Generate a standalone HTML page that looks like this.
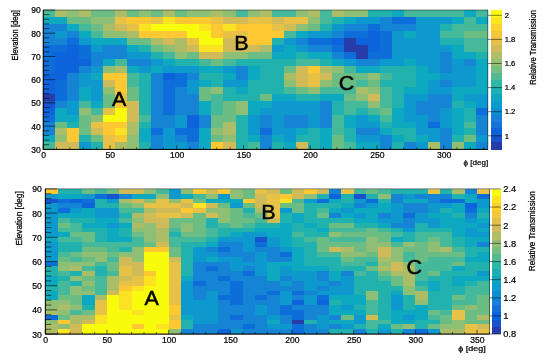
<!DOCTYPE html>
<html><head><meta charset="utf-8"><title>Relative Transmission maps</title>
<style>
html,body{margin:0;padding:0;background:#fff;}
body{width:550px;height:362px;overflow:hidden;}
svg{display:block;}
text{font-family:"Liberation Sans",sans-serif;fill:#000;stroke:#000;stroke-width:0.22px;}
.t{font-size:8.6px;}
.z{font-size:7.7px;}
.zb{font-size:9.3px;}
.sb{font-size:8.2px;}
.pb{font-size:7.1px;}
.s{font-size:7.65px;}
.L{font-size:20.3px;stroke-width:0.5px;}
</style></head><body>
<svg width="550" height="362" viewBox="0 0 550 362">
<defs><filter id="bl" x="-2%" y="-2%" width="104%" height="104%"><feGaussianBlur stdDeviation="0.4"/></filter><filter id="bh" x="-2%" y="-2%" width="104%" height="104%"><feGaussianBlur stdDeviation="0.65"/></filter></defs>
<rect width="550" height="362" fill="#fff"/>
<g shape-rendering="crispEdges" filter="url(#bh)">
<rect x="43.20" y="10.00" width="12.32" height="7.27" fill="#44b999"/>
<rect x="55.22" y="10.00" width="12.32" height="7.27" fill="#acbd68"/>
<rect x="67.24" y="10.00" width="12.32" height="7.27" fill="#8fbf74"/>
<rect x="79.26" y="10.00" width="12.32" height="7.27" fill="#acbd68"/>
<rect x="91.28" y="10.00" width="24.34" height="7.27" fill="#6cbd84"/>
<rect x="115.31" y="10.00" width="12.32" height="7.27" fill="#acbd68"/>
<rect x="127.33" y="10.00" width="12.32" height="7.27" fill="#6cbd84"/>
<rect x="139.35" y="10.00" width="12.32" height="7.27" fill="#8fbf74"/>
<rect x="151.37" y="10.00" width="12.32" height="7.27" fill="#6cbd84"/>
<rect x="163.39" y="10.00" width="12.32" height="7.27" fill="#acbd68"/>
<rect x="175.41" y="10.00" width="12.32" height="7.27" fill="#6cbd84"/>
<rect x="187.43" y="10.00" width="24.34" height="7.27" fill="#8fbf74"/>
<rect x="211.46" y="10.00" width="12.32" height="7.27" fill="#acbd68"/>
<rect x="223.48" y="10.00" width="12.32" height="7.27" fill="#8fbf74"/>
<rect x="235.50" y="10.00" width="12.32" height="7.27" fill="#44b999"/>
<rect x="247.52" y="10.00" width="12.32" height="7.27" fill="#8fbf74"/>
<rect x="259.54" y="10.00" width="12.32" height="7.27" fill="#acbd68"/>
<rect x="271.56" y="10.00" width="24.34" height="7.27" fill="#44b999"/>
<rect x="295.60" y="10.00" width="12.32" height="7.27" fill="#8fbf74"/>
<rect x="307.62" y="10.00" width="12.32" height="7.27" fill="#acbd68"/>
<rect x="319.64" y="10.00" width="12.32" height="7.27" fill="#44b999"/>
<rect x="331.65" y="10.00" width="12.32" height="7.27" fill="#acbd68"/>
<rect x="343.67" y="10.00" width="24.34" height="7.27" fill="#8fbf74"/>
<rect x="367.71" y="10.00" width="24.34" height="7.27" fill="#24b2ad"/>
<rect x="391.75" y="10.00" width="12.32" height="7.27" fill="#10a9c0"/>
<rect x="403.77" y="10.00" width="60.39" height="7.27" fill="#44b999"/>
<rect x="463.86" y="10.00" width="12.32" height="7.27" fill="#10a9c0"/>
<rect x="475.88" y="10.00" width="12.32" height="7.27" fill="#44b999"/>
<rect x="43.20" y="16.97" width="24.34" height="7.27" fill="#10a9c0"/>
<rect x="67.24" y="16.97" width="24.34" height="7.27" fill="#6cbd84"/>
<rect x="91.28" y="16.97" width="24.34" height="7.27" fill="#8fbf74"/>
<rect x="115.31" y="16.97" width="12.32" height="7.27" fill="#e7c246"/>
<rect x="127.33" y="16.97" width="24.34" height="7.27" fill="#fec832"/>
<rect x="151.37" y="16.97" width="12.32" height="7.27" fill="#e7c246"/>
<rect x="163.39" y="16.97" width="12.32" height="7.27" fill="#fbe220"/>
<rect x="175.41" y="16.97" width="36.36" height="7.27" fill="#fec832"/>
<rect x="211.46" y="16.97" width="12.32" height="7.27" fill="#e7c246"/>
<rect x="223.48" y="16.97" width="24.34" height="7.27" fill="#d1bb59"/>
<rect x="247.52" y="16.97" width="24.34" height="7.27" fill="#e7c246"/>
<rect x="271.56" y="16.97" width="12.32" height="7.27" fill="#d1bb59"/>
<rect x="283.58" y="16.97" width="24.34" height="7.27" fill="#e7c246"/>
<rect x="307.62" y="16.97" width="12.32" height="7.27" fill="#8fbf74"/>
<rect x="319.64" y="16.97" width="12.32" height="7.27" fill="#44b999"/>
<rect x="331.65" y="16.97" width="12.32" height="7.27" fill="#24b2ad"/>
<rect x="343.67" y="16.97" width="12.32" height="7.27" fill="#10a9c0"/>
<rect x="355.69" y="16.97" width="24.34" height="7.27" fill="#0a99cd"/>
<rect x="379.73" y="16.97" width="12.32" height="7.27" fill="#1284d5"/>
<rect x="391.75" y="16.97" width="24.34" height="7.27" fill="#116eda"/>
<rect x="415.79" y="16.97" width="36.36" height="7.27" fill="#0a99cd"/>
<rect x="451.84" y="16.97" width="12.32" height="7.27" fill="#10a9c0"/>
<rect x="463.86" y="16.97" width="12.32" height="7.27" fill="#44b999"/>
<rect x="475.88" y="16.97" width="12.32" height="7.27" fill="#10a9c0"/>
<rect x="43.20" y="23.94" width="24.34" height="7.27" fill="#1284d5"/>
<rect x="67.24" y="23.94" width="12.32" height="7.27" fill="#10a9c0"/>
<rect x="79.26" y="23.94" width="12.32" height="7.27" fill="#44b999"/>
<rect x="91.28" y="23.94" width="12.32" height="7.27" fill="#6cbd84"/>
<rect x="103.29" y="23.94" width="12.32" height="7.27" fill="#acbd68"/>
<rect x="115.31" y="23.94" width="12.32" height="7.27" fill="#d1bb59"/>
<rect x="127.33" y="23.94" width="12.32" height="7.27" fill="#e7c246"/>
<rect x="139.35" y="23.94" width="12.32" height="7.27" fill="#fbe220"/>
<rect x="151.37" y="23.94" width="48.38" height="7.27" fill="#f9fb0e"/>
<rect x="199.45" y="23.94" width="12.32" height="7.27" fill="#fbe220"/>
<rect x="211.46" y="23.94" width="12.32" height="7.27" fill="#fec832"/>
<rect x="223.48" y="23.94" width="12.32" height="7.27" fill="#fbe220"/>
<rect x="235.50" y="23.94" width="36.36" height="7.27" fill="#fec832"/>
<rect x="271.56" y="23.94" width="12.32" height="7.27" fill="#e7c246"/>
<rect x="283.58" y="23.94" width="12.32" height="7.27" fill="#d1bb59"/>
<rect x="295.60" y="23.94" width="12.32" height="7.27" fill="#8fbf74"/>
<rect x="307.62" y="23.94" width="12.32" height="7.27" fill="#6cbd84"/>
<rect x="319.64" y="23.94" width="12.32" height="7.27" fill="#24b2ad"/>
<rect x="331.65" y="23.94" width="12.32" height="7.27" fill="#0a99cd"/>
<rect x="343.67" y="23.94" width="24.34" height="7.27" fill="#1284d5"/>
<rect x="367.71" y="23.94" width="12.32" height="7.27" fill="#116eda"/>
<rect x="379.73" y="23.94" width="36.36" height="7.27" fill="#1284d5"/>
<rect x="415.79" y="23.94" width="24.34" height="7.27" fill="#0a99cd"/>
<rect x="439.82" y="23.94" width="12.32" height="7.27" fill="#24b2ad"/>
<rect x="451.84" y="23.94" width="36.36" height="7.27" fill="#44b999"/>
<rect x="43.20" y="30.91" width="12.32" height="7.27" fill="#1284d5"/>
<rect x="55.22" y="30.91" width="12.32" height="7.27" fill="#0a99cd"/>
<rect x="67.24" y="30.91" width="12.32" height="7.27" fill="#1284d5"/>
<rect x="79.26" y="30.91" width="12.32" height="7.27" fill="#10a9c0"/>
<rect x="91.28" y="30.91" width="12.32" height="7.27" fill="#44b999"/>
<rect x="103.29" y="30.91" width="24.34" height="7.27" fill="#8fbf74"/>
<rect x="127.33" y="30.91" width="12.32" height="7.27" fill="#acbd68"/>
<rect x="139.35" y="30.91" width="48.38" height="7.27" fill="#fec832"/>
<rect x="187.43" y="30.91" width="24.34" height="7.27" fill="#f9fb0e"/>
<rect x="211.46" y="30.91" width="12.32" height="7.27" fill="#fec832"/>
<rect x="223.48" y="30.91" width="24.34" height="7.27" fill="#e7c246"/>
<rect x="247.52" y="30.91" width="36.36" height="7.27" fill="#fec832"/>
<rect x="283.58" y="30.91" width="12.32" height="7.27" fill="#44b999"/>
<rect x="295.60" y="30.91" width="12.32" height="7.27" fill="#10a9c0"/>
<rect x="307.62" y="30.91" width="24.34" height="7.27" fill="#0a99cd"/>
<rect x="331.65" y="30.91" width="12.32" height="7.27" fill="#1284d5"/>
<rect x="343.67" y="30.91" width="24.34" height="7.27" fill="#116eda"/>
<rect x="367.71" y="30.91" width="12.32" height="7.27" fill="#1063dc"/>
<rect x="379.73" y="30.91" width="12.32" height="7.27" fill="#116eda"/>
<rect x="391.75" y="30.91" width="12.32" height="7.27" fill="#0a99cd"/>
<rect x="403.77" y="30.91" width="12.32" height="7.27" fill="#10a9c0"/>
<rect x="415.79" y="30.91" width="24.34" height="7.27" fill="#0a99cd"/>
<rect x="439.82" y="30.91" width="24.34" height="7.27" fill="#44b999"/>
<rect x="463.86" y="30.91" width="24.34" height="7.27" fill="#6cbd84"/>
<rect x="43.20" y="37.88" width="24.34" height="7.27" fill="#1284d5"/>
<rect x="67.24" y="37.88" width="12.32" height="7.27" fill="#116eda"/>
<rect x="79.26" y="37.88" width="12.32" height="7.27" fill="#0a99cd"/>
<rect x="91.28" y="37.88" width="36.36" height="7.27" fill="#10a9c0"/>
<rect x="127.33" y="37.88" width="24.34" height="7.27" fill="#6cbd84"/>
<rect x="151.37" y="37.88" width="12.32" height="7.27" fill="#acbd68"/>
<rect x="163.39" y="37.88" width="12.32" height="7.27" fill="#d1bb59"/>
<rect x="175.41" y="37.88" width="12.32" height="7.27" fill="#acbd68"/>
<rect x="187.43" y="37.88" width="12.32" height="7.27" fill="#e7c246"/>
<rect x="199.45" y="37.88" width="24.34" height="7.27" fill="#f9fb0e"/>
<rect x="223.48" y="37.88" width="12.32" height="7.27" fill="#d1bb59"/>
<rect x="235.50" y="37.88" width="12.32" height="7.27" fill="#e7c246"/>
<rect x="247.52" y="37.88" width="24.34" height="7.27" fill="#fec832"/>
<rect x="271.56" y="37.88" width="12.32" height="7.27" fill="#24b2ad"/>
<rect x="283.58" y="37.88" width="12.32" height="7.27" fill="#0a99cd"/>
<rect x="295.60" y="37.88" width="12.32" height="7.27" fill="#1284d5"/>
<rect x="307.62" y="37.88" width="24.34" height="7.27" fill="#116eda"/>
<rect x="331.65" y="37.88" width="12.32" height="7.27" fill="#1063dc"/>
<rect x="343.67" y="37.88" width="12.32" height="7.27" fill="#263ea9"/>
<rect x="355.69" y="37.88" width="24.34" height="7.27" fill="#1063dc"/>
<rect x="379.73" y="37.88" width="12.32" height="7.27" fill="#116eda"/>
<rect x="391.75" y="37.88" width="48.38" height="7.27" fill="#0a99cd"/>
<rect x="439.82" y="37.88" width="24.34" height="7.27" fill="#24b2ad"/>
<rect x="463.86" y="37.88" width="24.34" height="7.27" fill="#44b999"/>
<rect x="43.20" y="44.85" width="24.34" height="7.27" fill="#116eda"/>
<rect x="67.24" y="44.85" width="12.32" height="7.27" fill="#1063dc"/>
<rect x="79.26" y="44.85" width="12.32" height="7.27" fill="#116eda"/>
<rect x="91.28" y="44.85" width="12.32" height="7.27" fill="#0a99cd"/>
<rect x="103.29" y="44.85" width="24.34" height="7.27" fill="#1284d5"/>
<rect x="127.33" y="44.85" width="12.32" height="7.27" fill="#10a9c0"/>
<rect x="139.35" y="44.85" width="12.32" height="7.27" fill="#24b2ad"/>
<rect x="151.37" y="44.85" width="12.32" height="7.27" fill="#6cbd84"/>
<rect x="163.39" y="44.85" width="12.32" height="7.27" fill="#8fbf74"/>
<rect x="175.41" y="44.85" width="12.32" height="7.27" fill="#acbd68"/>
<rect x="187.43" y="44.85" width="12.32" height="7.27" fill="#d1bb59"/>
<rect x="199.45" y="44.85" width="24.34" height="7.27" fill="#fbe220"/>
<rect x="223.48" y="44.85" width="36.36" height="7.27" fill="#d1bb59"/>
<rect x="259.54" y="44.85" width="12.32" height="7.27" fill="#acbd68"/>
<rect x="271.56" y="44.85" width="12.32" height="7.27" fill="#0a99cd"/>
<rect x="283.58" y="44.85" width="12.32" height="7.27" fill="#10a9c0"/>
<rect x="295.60" y="44.85" width="12.32" height="7.27" fill="#0a99cd"/>
<rect x="307.62" y="44.85" width="24.34" height="7.27" fill="#1284d5"/>
<rect x="331.65" y="44.85" width="12.32" height="7.27" fill="#116eda"/>
<rect x="343.67" y="44.85" width="24.34" height="7.27" fill="#263ea9"/>
<rect x="367.71" y="44.85" width="12.32" height="7.27" fill="#1063dc"/>
<rect x="379.73" y="44.85" width="12.32" height="7.27" fill="#116eda"/>
<rect x="391.75" y="44.85" width="60.39" height="7.27" fill="#0a99cd"/>
<rect x="451.84" y="44.85" width="12.32" height="7.27" fill="#10a9c0"/>
<rect x="463.86" y="44.85" width="24.34" height="7.27" fill="#44b999"/>
<rect x="43.20" y="51.82" width="12.32" height="7.27" fill="#116eda"/>
<rect x="55.22" y="51.82" width="24.34" height="7.27" fill="#1063dc"/>
<rect x="79.26" y="51.82" width="12.32" height="7.27" fill="#116eda"/>
<rect x="91.28" y="51.82" width="36.36" height="7.27" fill="#1284d5"/>
<rect x="127.33" y="51.82" width="24.34" height="7.27" fill="#0a99cd"/>
<rect x="151.37" y="51.82" width="12.32" height="7.27" fill="#24b2ad"/>
<rect x="163.39" y="51.82" width="12.32" height="7.27" fill="#44b999"/>
<rect x="175.41" y="51.82" width="12.32" height="7.27" fill="#8fbf74"/>
<rect x="187.43" y="51.82" width="12.32" height="7.27" fill="#6cbd84"/>
<rect x="199.45" y="51.82" width="24.34" height="7.27" fill="#d1bb59"/>
<rect x="223.48" y="51.82" width="24.34" height="7.27" fill="#8fbf74"/>
<rect x="247.52" y="51.82" width="24.34" height="7.27" fill="#6cbd84"/>
<rect x="271.56" y="51.82" width="24.34" height="7.27" fill="#10a9c0"/>
<rect x="295.60" y="51.82" width="12.32" height="7.27" fill="#24b2ad"/>
<rect x="307.62" y="51.82" width="24.34" height="7.27" fill="#10a9c0"/>
<rect x="331.65" y="51.82" width="12.32" height="7.27" fill="#1284d5"/>
<rect x="343.67" y="51.82" width="12.32" height="7.27" fill="#116eda"/>
<rect x="355.69" y="51.82" width="12.32" height="7.27" fill="#263ea9"/>
<rect x="367.71" y="51.82" width="24.34" height="7.27" fill="#116eda"/>
<rect x="391.75" y="51.82" width="48.38" height="7.27" fill="#0a99cd"/>
<rect x="439.82" y="51.82" width="12.32" height="7.27" fill="#1284d5"/>
<rect x="451.84" y="51.82" width="24.34" height="7.27" fill="#10a9c0"/>
<rect x="475.88" y="51.82" width="12.32" height="7.27" fill="#24b2ad"/>
<rect x="43.20" y="58.79" width="12.32" height="7.27" fill="#116eda"/>
<rect x="55.22" y="58.79" width="36.36" height="7.27" fill="#1063dc"/>
<rect x="91.28" y="58.79" width="12.32" height="7.27" fill="#1284d5"/>
<rect x="103.29" y="58.79" width="12.32" height="7.27" fill="#10a9c0"/>
<rect x="115.31" y="58.79" width="12.32" height="7.27" fill="#44b999"/>
<rect x="127.33" y="58.79" width="24.34" height="7.27" fill="#1284d5"/>
<rect x="151.37" y="58.79" width="12.32" height="7.27" fill="#0a99cd"/>
<rect x="163.39" y="58.79" width="12.32" height="7.27" fill="#10a9c0"/>
<rect x="175.41" y="58.79" width="24.34" height="7.27" fill="#24b2ad"/>
<rect x="199.45" y="58.79" width="12.32" height="7.27" fill="#44b999"/>
<rect x="211.46" y="58.79" width="12.32" height="7.27" fill="#6cbd84"/>
<rect x="223.48" y="58.79" width="12.32" height="7.27" fill="#44b999"/>
<rect x="235.50" y="58.79" width="60.39" height="7.27" fill="#24b2ad"/>
<rect x="295.60" y="58.79" width="24.34" height="7.27" fill="#44b999"/>
<rect x="319.64" y="58.79" width="12.32" height="7.27" fill="#24b2ad"/>
<rect x="331.65" y="58.79" width="12.32" height="7.27" fill="#10a9c0"/>
<rect x="343.67" y="58.79" width="12.32" height="7.27" fill="#0a99cd"/>
<rect x="355.69" y="58.79" width="24.34" height="7.27" fill="#1284d5"/>
<rect x="379.73" y="58.79" width="24.34" height="7.27" fill="#0a99cd"/>
<rect x="403.77" y="58.79" width="12.32" height="7.27" fill="#10a9c0"/>
<rect x="415.79" y="58.79" width="24.34" height="7.27" fill="#0a99cd"/>
<rect x="439.82" y="58.79" width="12.32" height="7.27" fill="#1284d5"/>
<rect x="451.84" y="58.79" width="12.32" height="7.27" fill="#0a99cd"/>
<rect x="463.86" y="58.79" width="12.32" height="7.27" fill="#1284d5"/>
<rect x="475.88" y="58.79" width="12.32" height="7.27" fill="#10a9c0"/>
<rect x="43.20" y="65.76" width="12.32" height="7.27" fill="#116eda"/>
<rect x="55.22" y="65.76" width="24.34" height="7.27" fill="#1063dc"/>
<rect x="79.26" y="65.76" width="12.32" height="7.27" fill="#1284d5"/>
<rect x="91.28" y="65.76" width="12.32" height="7.27" fill="#0a99cd"/>
<rect x="103.29" y="65.76" width="12.32" height="7.27" fill="#8fbf74"/>
<rect x="115.31" y="65.76" width="12.32" height="7.27" fill="#acbd68"/>
<rect x="127.33" y="65.76" width="12.32" height="7.27" fill="#10a9c0"/>
<rect x="139.35" y="65.76" width="12.32" height="7.27" fill="#0a99cd"/>
<rect x="151.37" y="65.76" width="12.32" height="7.27" fill="#10a9c0"/>
<rect x="163.39" y="65.76" width="36.36" height="7.27" fill="#0a99cd"/>
<rect x="199.45" y="65.76" width="24.34" height="7.27" fill="#10a9c0"/>
<rect x="223.48" y="65.76" width="12.32" height="7.27" fill="#0a99cd"/>
<rect x="235.50" y="65.76" width="12.32" height="7.27" fill="#1284d5"/>
<rect x="247.52" y="65.76" width="12.32" height="7.27" fill="#10a9c0"/>
<rect x="259.54" y="65.76" width="24.34" height="7.27" fill="#24b2ad"/>
<rect x="283.58" y="65.76" width="12.32" height="7.27" fill="#6cbd84"/>
<rect x="295.60" y="65.76" width="12.32" height="7.27" fill="#d1bb59"/>
<rect x="307.62" y="65.76" width="12.32" height="7.27" fill="#fec832"/>
<rect x="319.64" y="65.76" width="12.32" height="7.27" fill="#acbd68"/>
<rect x="331.65" y="65.76" width="12.32" height="7.27" fill="#8fbf74"/>
<rect x="343.67" y="65.76" width="12.32" height="7.27" fill="#44b999"/>
<rect x="355.69" y="65.76" width="24.34" height="7.27" fill="#10a9c0"/>
<rect x="379.73" y="65.76" width="36.36" height="7.27" fill="#24b2ad"/>
<rect x="415.79" y="65.76" width="12.32" height="7.27" fill="#10a9c0"/>
<rect x="427.81" y="65.76" width="12.32" height="7.27" fill="#0a99cd"/>
<rect x="439.82" y="65.76" width="12.32" height="7.27" fill="#1284d5"/>
<rect x="451.84" y="65.76" width="24.34" height="7.27" fill="#0a99cd"/>
<rect x="475.88" y="65.76" width="12.32" height="7.27" fill="#10a9c0"/>
<rect x="43.20" y="72.73" width="24.34" height="7.27" fill="#1063dc"/>
<rect x="67.24" y="72.73" width="12.32" height="7.27" fill="#1284d5"/>
<rect x="79.26" y="72.73" width="12.32" height="7.27" fill="#0a99cd"/>
<rect x="91.28" y="72.73" width="12.32" height="7.27" fill="#10a9c0"/>
<rect x="103.29" y="72.73" width="24.34" height="7.27" fill="#fec832"/>
<rect x="127.33" y="72.73" width="12.32" height="7.27" fill="#44b999"/>
<rect x="139.35" y="72.73" width="12.32" height="7.27" fill="#24b2ad"/>
<rect x="151.37" y="72.73" width="12.32" height="7.27" fill="#1284d5"/>
<rect x="163.39" y="72.73" width="12.32" height="7.27" fill="#1063dc"/>
<rect x="175.41" y="72.73" width="12.32" height="7.27" fill="#116eda"/>
<rect x="187.43" y="72.73" width="12.32" height="7.27" fill="#1284d5"/>
<rect x="199.45" y="72.73" width="24.34" height="7.27" fill="#24b2ad"/>
<rect x="223.48" y="72.73" width="12.32" height="7.27" fill="#10a9c0"/>
<rect x="235.50" y="72.73" width="12.32" height="7.27" fill="#1284d5"/>
<rect x="247.52" y="72.73" width="12.32" height="7.27" fill="#10a9c0"/>
<rect x="259.54" y="72.73" width="24.34" height="7.27" fill="#24b2ad"/>
<rect x="283.58" y="72.73" width="12.32" height="7.27" fill="#acbd68"/>
<rect x="295.60" y="72.73" width="12.32" height="7.27" fill="#d1bb59"/>
<rect x="307.62" y="72.73" width="12.32" height="7.27" fill="#e7c246"/>
<rect x="319.64" y="72.73" width="12.32" height="7.27" fill="#d1bb59"/>
<rect x="331.65" y="72.73" width="36.36" height="7.27" fill="#6cbd84"/>
<rect x="367.71" y="72.73" width="12.32" height="7.27" fill="#8fbf74"/>
<rect x="379.73" y="72.73" width="12.32" height="7.27" fill="#44b999"/>
<rect x="391.75" y="72.73" width="24.34" height="7.27" fill="#24b2ad"/>
<rect x="415.79" y="72.73" width="24.34" height="7.27" fill="#10a9c0"/>
<rect x="439.82" y="72.73" width="36.36" height="7.27" fill="#0a99cd"/>
<rect x="475.88" y="72.73" width="12.32" height="7.27" fill="#10a9c0"/>
<rect x="43.20" y="79.70" width="12.32" height="7.27" fill="#1063dc"/>
<rect x="55.22" y="79.70" width="12.32" height="7.27" fill="#116eda"/>
<rect x="67.24" y="79.70" width="12.32" height="7.27" fill="#1284d5"/>
<rect x="79.26" y="79.70" width="24.34" height="7.27" fill="#0a99cd"/>
<rect x="103.29" y="79.70" width="12.32" height="7.27" fill="#d1bb59"/>
<rect x="115.31" y="79.70" width="12.32" height="7.27" fill="#fec832"/>
<rect x="127.33" y="79.70" width="12.32" height="7.27" fill="#44b999"/>
<rect x="139.35" y="79.70" width="12.32" height="7.27" fill="#24b2ad"/>
<rect x="151.37" y="79.70" width="12.32" height="7.27" fill="#1284d5"/>
<rect x="163.39" y="79.70" width="24.34" height="7.27" fill="#116eda"/>
<rect x="187.43" y="79.70" width="12.32" height="7.27" fill="#0a99cd"/>
<rect x="199.45" y="79.70" width="12.32" height="7.27" fill="#10a9c0"/>
<rect x="211.46" y="79.70" width="12.32" height="7.27" fill="#24b2ad"/>
<rect x="223.48" y="79.70" width="24.34" height="7.27" fill="#0a99cd"/>
<rect x="247.52" y="79.70" width="36.36" height="7.27" fill="#24b2ad"/>
<rect x="283.58" y="79.70" width="12.32" height="7.27" fill="#8fbf74"/>
<rect x="295.60" y="79.70" width="12.32" height="7.27" fill="#d1bb59"/>
<rect x="307.62" y="79.70" width="12.32" height="7.27" fill="#e7c246"/>
<rect x="319.64" y="79.70" width="12.32" height="7.27" fill="#8fbf74"/>
<rect x="331.65" y="79.70" width="24.34" height="7.27" fill="#6cbd84"/>
<rect x="355.69" y="79.70" width="12.32" height="7.27" fill="#44b999"/>
<rect x="367.71" y="79.70" width="12.32" height="7.27" fill="#6cbd84"/>
<rect x="379.73" y="79.70" width="36.36" height="7.27" fill="#24b2ad"/>
<rect x="415.79" y="79.70" width="12.32" height="7.27" fill="#10a9c0"/>
<rect x="427.81" y="79.70" width="12.32" height="7.27" fill="#0a99cd"/>
<rect x="439.82" y="79.70" width="12.32" height="7.27" fill="#1284d5"/>
<rect x="451.84" y="79.70" width="24.34" height="7.27" fill="#0a99cd"/>
<rect x="475.88" y="79.70" width="12.32" height="7.27" fill="#10a9c0"/>
<rect x="43.20" y="86.67" width="12.32" height="7.27" fill="#1063dc"/>
<rect x="55.22" y="86.67" width="12.32" height="7.27" fill="#116eda"/>
<rect x="67.24" y="86.67" width="12.32" height="7.27" fill="#1284d5"/>
<rect x="79.26" y="86.67" width="12.32" height="7.27" fill="#10a9c0"/>
<rect x="91.28" y="86.67" width="12.32" height="7.27" fill="#0a99cd"/>
<rect x="103.29" y="86.67" width="12.32" height="7.27" fill="#8fbf74"/>
<rect x="115.31" y="86.67" width="12.32" height="7.27" fill="#fec832"/>
<rect x="127.33" y="86.67" width="12.32" height="7.27" fill="#6cbd84"/>
<rect x="139.35" y="86.67" width="12.32" height="7.27" fill="#24b2ad"/>
<rect x="151.37" y="86.67" width="12.32" height="7.27" fill="#1284d5"/>
<rect x="163.39" y="86.67" width="12.32" height="7.27" fill="#116eda"/>
<rect x="175.41" y="86.67" width="12.32" height="7.27" fill="#1284d5"/>
<rect x="187.43" y="86.67" width="12.32" height="7.27" fill="#0a99cd"/>
<rect x="199.45" y="86.67" width="12.32" height="7.27" fill="#6cbd84"/>
<rect x="211.46" y="86.67" width="12.32" height="7.27" fill="#8fbf74"/>
<rect x="223.48" y="86.67" width="12.32" height="7.27" fill="#24b2ad"/>
<rect x="235.50" y="86.67" width="12.32" height="7.27" fill="#10a9c0"/>
<rect x="247.52" y="86.67" width="36.36" height="7.27" fill="#24b2ad"/>
<rect x="283.58" y="86.67" width="12.32" height="7.27" fill="#44b999"/>
<rect x="295.60" y="86.67" width="12.32" height="7.27" fill="#6cbd84"/>
<rect x="307.62" y="86.67" width="12.32" height="7.27" fill="#8fbf74"/>
<rect x="319.64" y="86.67" width="36.36" height="7.27" fill="#44b999"/>
<rect x="355.69" y="86.67" width="12.32" height="7.27" fill="#acbd68"/>
<rect x="367.71" y="86.67" width="12.32" height="7.27" fill="#8fbf74"/>
<rect x="379.73" y="86.67" width="12.32" height="7.27" fill="#44b999"/>
<rect x="391.75" y="86.67" width="12.32" height="7.27" fill="#24b2ad"/>
<rect x="403.77" y="86.67" width="24.34" height="7.27" fill="#10a9c0"/>
<rect x="427.81" y="86.67" width="24.34" height="7.27" fill="#0a99cd"/>
<rect x="451.84" y="86.67" width="36.36" height="7.27" fill="#10a9c0"/>
<rect x="43.20" y="93.64" width="12.32" height="7.27" fill="#263ea9"/>
<rect x="55.22" y="93.64" width="12.32" height="7.27" fill="#116eda"/>
<rect x="67.24" y="93.64" width="12.32" height="7.27" fill="#1284d5"/>
<rect x="79.26" y="93.64" width="12.32" height="7.27" fill="#10a9c0"/>
<rect x="91.28" y="93.64" width="12.32" height="7.27" fill="#0a99cd"/>
<rect x="103.29" y="93.64" width="12.32" height="7.27" fill="#6cbd84"/>
<rect x="115.31" y="93.64" width="12.32" height="7.27" fill="#e7c246"/>
<rect x="127.33" y="93.64" width="12.32" height="7.27" fill="#6cbd84"/>
<rect x="139.35" y="93.64" width="12.32" height="7.27" fill="#24b2ad"/>
<rect x="151.37" y="93.64" width="12.32" height="7.27" fill="#1284d5"/>
<rect x="163.39" y="93.64" width="12.32" height="7.27" fill="#116eda"/>
<rect x="175.41" y="93.64" width="24.34" height="7.27" fill="#1284d5"/>
<rect x="199.45" y="93.64" width="12.32" height="7.27" fill="#6cbd84"/>
<rect x="211.46" y="93.64" width="12.32" height="7.27" fill="#44b999"/>
<rect x="223.48" y="93.64" width="36.36" height="7.27" fill="#24b2ad"/>
<rect x="259.54" y="93.64" width="12.32" height="7.27" fill="#6cbd84"/>
<rect x="271.56" y="93.64" width="24.34" height="7.27" fill="#10a9c0"/>
<rect x="295.60" y="93.64" width="24.34" height="7.27" fill="#24b2ad"/>
<rect x="319.64" y="93.64" width="24.34" height="7.27" fill="#10a9c0"/>
<rect x="343.67" y="93.64" width="12.32" height="7.27" fill="#6cbd84"/>
<rect x="355.69" y="93.64" width="12.32" height="7.27" fill="#8fbf74"/>
<rect x="367.71" y="93.64" width="12.32" height="7.27" fill="#d1bb59"/>
<rect x="379.73" y="93.64" width="12.32" height="7.27" fill="#44b999"/>
<rect x="391.75" y="93.64" width="12.32" height="7.27" fill="#24b2ad"/>
<rect x="403.77" y="93.64" width="24.34" height="7.27" fill="#0a99cd"/>
<rect x="427.81" y="93.64" width="24.34" height="7.27" fill="#1284d5"/>
<rect x="451.84" y="93.64" width="12.32" height="7.27" fill="#10a9c0"/>
<rect x="463.86" y="93.64" width="24.34" height="7.27" fill="#0a99cd"/>
<rect x="43.20" y="100.61" width="12.32" height="7.27" fill="#1752cc"/>
<rect x="55.22" y="100.61" width="12.32" height="7.27" fill="#1284d5"/>
<rect x="67.24" y="100.61" width="12.32" height="7.27" fill="#0a99cd"/>
<rect x="79.26" y="100.61" width="12.32" height="7.27" fill="#44b999"/>
<rect x="91.28" y="100.61" width="12.32" height="7.27" fill="#10a9c0"/>
<rect x="103.29" y="100.61" width="12.32" height="7.27" fill="#6cbd84"/>
<rect x="115.31" y="100.61" width="12.32" height="7.27" fill="#fec832"/>
<rect x="127.33" y="100.61" width="12.32" height="7.27" fill="#d1bb59"/>
<rect x="139.35" y="100.61" width="12.32" height="7.27" fill="#24b2ad"/>
<rect x="151.37" y="100.61" width="12.32" height="7.27" fill="#1284d5"/>
<rect x="163.39" y="100.61" width="12.32" height="7.27" fill="#116eda"/>
<rect x="175.41" y="100.61" width="24.34" height="7.27" fill="#1284d5"/>
<rect x="199.45" y="100.61" width="12.32" height="7.27" fill="#10a9c0"/>
<rect x="211.46" y="100.61" width="12.32" height="7.27" fill="#44b999"/>
<rect x="223.48" y="100.61" width="12.32" height="7.27" fill="#6cbd84"/>
<rect x="235.50" y="100.61" width="12.32" height="7.27" fill="#8fbf74"/>
<rect x="247.52" y="100.61" width="24.34" height="7.27" fill="#10a9c0"/>
<rect x="271.56" y="100.61" width="48.38" height="7.27" fill="#0a99cd"/>
<rect x="319.64" y="100.61" width="12.32" height="7.27" fill="#1284d5"/>
<rect x="331.65" y="100.61" width="12.32" height="7.27" fill="#24b2ad"/>
<rect x="343.67" y="100.61" width="24.34" height="7.27" fill="#44b999"/>
<rect x="367.71" y="100.61" width="12.32" height="7.27" fill="#8fbf74"/>
<rect x="379.73" y="100.61" width="12.32" height="7.27" fill="#44b999"/>
<rect x="391.75" y="100.61" width="12.32" height="7.27" fill="#24b2ad"/>
<rect x="403.77" y="100.61" width="12.32" height="7.27" fill="#0a99cd"/>
<rect x="415.79" y="100.61" width="36.36" height="7.27" fill="#1284d5"/>
<rect x="451.84" y="100.61" width="12.32" height="7.27" fill="#24b2ad"/>
<rect x="463.86" y="100.61" width="12.32" height="7.27" fill="#10a9c0"/>
<rect x="475.88" y="100.61" width="12.32" height="7.27" fill="#0a99cd"/>
<rect x="43.20" y="107.58" width="12.32" height="7.27" fill="#1063dc"/>
<rect x="55.22" y="107.58" width="12.32" height="7.27" fill="#10a9c0"/>
<rect x="67.24" y="107.58" width="12.32" height="7.27" fill="#0a99cd"/>
<rect x="79.26" y="107.58" width="12.32" height="7.27" fill="#8fbf74"/>
<rect x="91.28" y="107.58" width="12.32" height="7.27" fill="#44b999"/>
<rect x="103.29" y="107.58" width="12.32" height="7.27" fill="#e7c246"/>
<rect x="115.31" y="107.58" width="12.32" height="7.27" fill="#f9fb0e"/>
<rect x="127.33" y="107.58" width="12.32" height="7.27" fill="#d1bb59"/>
<rect x="139.35" y="107.58" width="12.32" height="7.27" fill="#24b2ad"/>
<rect x="151.37" y="107.58" width="12.32" height="7.27" fill="#1284d5"/>
<rect x="163.39" y="107.58" width="12.32" height="7.27" fill="#116eda"/>
<rect x="175.41" y="107.58" width="24.34" height="7.27" fill="#1284d5"/>
<rect x="199.45" y="107.58" width="12.32" height="7.27" fill="#10a9c0"/>
<rect x="211.46" y="107.58" width="12.32" height="7.27" fill="#44b999"/>
<rect x="223.48" y="107.58" width="12.32" height="7.27" fill="#6cbd84"/>
<rect x="235.50" y="107.58" width="12.32" height="7.27" fill="#8fbf74"/>
<rect x="247.52" y="107.58" width="12.32" height="7.27" fill="#10a9c0"/>
<rect x="259.54" y="107.58" width="60.39" height="7.27" fill="#0a99cd"/>
<rect x="319.64" y="107.58" width="12.32" height="7.27" fill="#1284d5"/>
<rect x="331.65" y="107.58" width="12.32" height="7.27" fill="#24b2ad"/>
<rect x="343.67" y="107.58" width="12.32" height="7.27" fill="#44b999"/>
<rect x="355.69" y="107.58" width="12.32" height="7.27" fill="#24b2ad"/>
<rect x="367.71" y="107.58" width="12.32" height="7.27" fill="#44b999"/>
<rect x="379.73" y="107.58" width="12.32" height="7.27" fill="#6cbd84"/>
<rect x="391.75" y="107.58" width="12.32" height="7.27" fill="#10a9c0"/>
<rect x="403.77" y="107.58" width="12.32" height="7.27" fill="#0a99cd"/>
<rect x="415.79" y="107.58" width="24.34" height="7.27" fill="#1284d5"/>
<rect x="439.82" y="107.58" width="12.32" height="7.27" fill="#0a99cd"/>
<rect x="451.84" y="107.58" width="12.32" height="7.27" fill="#10a9c0"/>
<rect x="463.86" y="107.58" width="12.32" height="7.27" fill="#24b2ad"/>
<rect x="475.88" y="107.58" width="12.32" height="7.27" fill="#116eda"/>
<rect x="43.20" y="114.55" width="12.32" height="7.27" fill="#116eda"/>
<rect x="55.22" y="114.55" width="24.34" height="7.27" fill="#10a9c0"/>
<rect x="79.26" y="114.55" width="12.32" height="7.27" fill="#6cbd84"/>
<rect x="91.28" y="114.55" width="12.32" height="7.27" fill="#8fbf74"/>
<rect x="103.29" y="114.55" width="24.34" height="7.27" fill="#f9fb0e"/>
<rect x="127.33" y="114.55" width="12.32" height="7.27" fill="#d1bb59"/>
<rect x="139.35" y="114.55" width="12.32" height="7.27" fill="#44b999"/>
<rect x="151.37" y="114.55" width="24.34" height="7.27" fill="#1284d5"/>
<rect x="175.41" y="114.55" width="12.32" height="7.27" fill="#0a99cd"/>
<rect x="187.43" y="114.55" width="12.32" height="7.27" fill="#1063dc"/>
<rect x="199.45" y="114.55" width="12.32" height="7.27" fill="#1284d5"/>
<rect x="211.46" y="114.55" width="24.34" height="7.27" fill="#6cbd84"/>
<rect x="235.50" y="114.55" width="12.32" height="7.27" fill="#24b2ad"/>
<rect x="247.52" y="114.55" width="12.32" height="7.27" fill="#0a99cd"/>
<rect x="259.54" y="114.55" width="12.32" height="7.27" fill="#1284d5"/>
<rect x="271.56" y="114.55" width="12.32" height="7.27" fill="#0a99cd"/>
<rect x="283.58" y="114.55" width="24.34" height="7.27" fill="#1284d5"/>
<rect x="307.62" y="114.55" width="12.32" height="7.27" fill="#0a99cd"/>
<rect x="319.64" y="114.55" width="12.32" height="7.27" fill="#1284d5"/>
<rect x="331.65" y="114.55" width="12.32" height="7.27" fill="#44b999"/>
<rect x="343.67" y="114.55" width="12.32" height="7.27" fill="#10a9c0"/>
<rect x="355.69" y="114.55" width="12.32" height="7.27" fill="#0a99cd"/>
<rect x="367.71" y="114.55" width="12.32" height="7.27" fill="#10a9c0"/>
<rect x="379.73" y="114.55" width="12.32" height="7.27" fill="#44b999"/>
<rect x="391.75" y="114.55" width="12.32" height="7.27" fill="#10a9c0"/>
<rect x="403.77" y="114.55" width="24.34" height="7.27" fill="#0a99cd"/>
<rect x="427.81" y="114.55" width="12.32" height="7.27" fill="#1284d5"/>
<rect x="439.82" y="114.55" width="12.32" height="7.27" fill="#0a99cd"/>
<rect x="451.84" y="114.55" width="12.32" height="7.27" fill="#10a9c0"/>
<rect x="463.86" y="114.55" width="12.32" height="7.27" fill="#24b2ad"/>
<rect x="475.88" y="114.55" width="12.32" height="7.27" fill="#1284d5"/>
<rect x="43.20" y="121.52" width="12.32" height="7.27" fill="#1284d5"/>
<rect x="55.22" y="121.52" width="12.32" height="7.27" fill="#6cbd84"/>
<rect x="67.24" y="121.52" width="12.32" height="7.27" fill="#24b2ad"/>
<rect x="79.26" y="121.52" width="12.32" height="7.27" fill="#6cbd84"/>
<rect x="91.28" y="121.52" width="12.32" height="7.27" fill="#e7c246"/>
<rect x="103.29" y="121.52" width="24.34" height="7.27" fill="#fec832"/>
<rect x="127.33" y="121.52" width="12.32" height="7.27" fill="#acbd68"/>
<rect x="139.35" y="121.52" width="12.32" height="7.27" fill="#24b2ad"/>
<rect x="151.37" y="121.52" width="24.34" height="7.27" fill="#1284d5"/>
<rect x="175.41" y="121.52" width="12.32" height="7.27" fill="#0a99cd"/>
<rect x="187.43" y="121.52" width="12.32" height="7.27" fill="#1063dc"/>
<rect x="199.45" y="121.52" width="12.32" height="7.27" fill="#1284d5"/>
<rect x="211.46" y="121.52" width="12.32" height="7.27" fill="#6cbd84"/>
<rect x="223.48" y="121.52" width="12.32" height="7.27" fill="#acbd68"/>
<rect x="235.50" y="121.52" width="12.32" height="7.27" fill="#24b2ad"/>
<rect x="247.52" y="121.52" width="12.32" height="7.27" fill="#0a99cd"/>
<rect x="259.54" y="121.52" width="12.32" height="7.27" fill="#1284d5"/>
<rect x="271.56" y="121.52" width="12.32" height="7.27" fill="#0a99cd"/>
<rect x="283.58" y="121.52" width="24.34" height="7.27" fill="#1284d5"/>
<rect x="307.62" y="121.52" width="12.32" height="7.27" fill="#0a99cd"/>
<rect x="319.64" y="121.52" width="12.32" height="7.27" fill="#1284d5"/>
<rect x="331.65" y="121.52" width="12.32" height="7.27" fill="#44b999"/>
<rect x="343.67" y="121.52" width="12.32" height="7.27" fill="#10a9c0"/>
<rect x="355.69" y="121.52" width="24.34" height="7.27" fill="#0a99cd"/>
<rect x="379.73" y="121.52" width="12.32" height="7.27" fill="#24b2ad"/>
<rect x="391.75" y="121.52" width="24.34" height="7.27" fill="#10a9c0"/>
<rect x="415.79" y="121.52" width="12.32" height="7.27" fill="#0a99cd"/>
<rect x="427.81" y="121.52" width="12.32" height="7.27" fill="#116eda"/>
<rect x="439.82" y="121.52" width="12.32" height="7.27" fill="#0a99cd"/>
<rect x="451.84" y="121.52" width="12.32" height="7.27" fill="#10a9c0"/>
<rect x="463.86" y="121.52" width="12.32" height="7.27" fill="#44b999"/>
<rect x="475.88" y="121.52" width="12.32" height="7.27" fill="#1284d5"/>
<rect x="43.20" y="128.49" width="12.32" height="7.27" fill="#1284d5"/>
<rect x="55.22" y="128.49" width="12.32" height="7.27" fill="#acbd68"/>
<rect x="67.24" y="128.49" width="12.32" height="7.27" fill="#fec832"/>
<rect x="79.26" y="128.49" width="12.32" height="7.27" fill="#6cbd84"/>
<rect x="91.28" y="128.49" width="12.32" height="7.27" fill="#d1bb59"/>
<rect x="103.29" y="128.49" width="12.32" height="7.27" fill="#fec832"/>
<rect x="115.31" y="128.49" width="12.32" height="7.27" fill="#fbe220"/>
<rect x="127.33" y="128.49" width="12.32" height="7.27" fill="#acbd68"/>
<rect x="139.35" y="128.49" width="12.32" height="7.27" fill="#10a9c0"/>
<rect x="151.37" y="128.49" width="12.32" height="7.27" fill="#116eda"/>
<rect x="163.39" y="128.49" width="12.32" height="7.27" fill="#0a99cd"/>
<rect x="175.41" y="128.49" width="24.34" height="7.27" fill="#116eda"/>
<rect x="199.45" y="128.49" width="12.32" height="7.27" fill="#10a9c0"/>
<rect x="211.46" y="128.49" width="12.32" height="7.27" fill="#8fbf74"/>
<rect x="223.48" y="128.49" width="12.32" height="7.27" fill="#acbd68"/>
<rect x="235.50" y="128.49" width="12.32" height="7.27" fill="#24b2ad"/>
<rect x="247.52" y="128.49" width="12.32" height="7.27" fill="#0a99cd"/>
<rect x="259.54" y="128.49" width="12.32" height="7.27" fill="#116eda"/>
<rect x="271.56" y="128.49" width="24.34" height="7.27" fill="#0a99cd"/>
<rect x="295.60" y="128.49" width="12.32" height="7.27" fill="#10a9c0"/>
<rect x="307.62" y="128.49" width="12.32" height="7.27" fill="#24b2ad"/>
<rect x="319.64" y="128.49" width="12.32" height="7.27" fill="#10a9c0"/>
<rect x="331.65" y="128.49" width="12.32" height="7.27" fill="#44b999"/>
<rect x="343.67" y="128.49" width="12.32" height="7.27" fill="#24b2ad"/>
<rect x="355.69" y="128.49" width="24.34" height="7.27" fill="#1284d5"/>
<rect x="379.73" y="128.49" width="12.32" height="7.27" fill="#10a9c0"/>
<rect x="391.75" y="128.49" width="24.34" height="7.27" fill="#24b2ad"/>
<rect x="415.79" y="128.49" width="24.34" height="7.27" fill="#0a99cd"/>
<rect x="439.82" y="128.49" width="12.32" height="7.27" fill="#1284d5"/>
<rect x="451.84" y="128.49" width="12.32" height="7.27" fill="#10a9c0"/>
<rect x="463.86" y="128.49" width="12.32" height="7.27" fill="#24b2ad"/>
<rect x="475.88" y="128.49" width="12.32" height="7.27" fill="#1284d5"/>
<rect x="43.20" y="135.46" width="12.32" height="7.27" fill="#10a9c0"/>
<rect x="55.22" y="135.46" width="12.32" height="7.27" fill="#8fbf74"/>
<rect x="67.24" y="135.46" width="12.32" height="7.27" fill="#fec832"/>
<rect x="79.26" y="135.46" width="12.32" height="7.27" fill="#24b2ad"/>
<rect x="91.28" y="135.46" width="12.32" height="7.27" fill="#6cbd84"/>
<rect x="103.29" y="135.46" width="12.32" height="7.27" fill="#e7c246"/>
<rect x="115.31" y="135.46" width="12.32" height="7.27" fill="#fec832"/>
<rect x="127.33" y="135.46" width="12.32" height="7.27" fill="#8fbf74"/>
<rect x="139.35" y="135.46" width="12.32" height="7.27" fill="#10a9c0"/>
<rect x="151.37" y="135.46" width="12.32" height="7.27" fill="#1284d5"/>
<rect x="163.39" y="135.46" width="12.32" height="7.27" fill="#0a99cd"/>
<rect x="175.41" y="135.46" width="12.32" height="7.27" fill="#1284d5"/>
<rect x="187.43" y="135.46" width="12.32" height="7.27" fill="#116eda"/>
<rect x="199.45" y="135.46" width="12.32" height="7.27" fill="#10a9c0"/>
<rect x="211.46" y="135.46" width="12.32" height="7.27" fill="#6cbd84"/>
<rect x="223.48" y="135.46" width="12.32" height="7.27" fill="#8fbf74"/>
<rect x="235.50" y="135.46" width="12.32" height="7.27" fill="#24b2ad"/>
<rect x="247.52" y="135.46" width="12.32" height="7.27" fill="#10a9c0"/>
<rect x="259.54" y="135.46" width="12.32" height="7.27" fill="#1284d5"/>
<rect x="271.56" y="135.46" width="12.32" height="7.27" fill="#10a9c0"/>
<rect x="283.58" y="135.46" width="12.32" height="7.27" fill="#0a99cd"/>
<rect x="295.60" y="135.46" width="24.34" height="7.27" fill="#24b2ad"/>
<rect x="319.64" y="135.46" width="12.32" height="7.27" fill="#10a9c0"/>
<rect x="331.65" y="135.46" width="12.32" height="7.27" fill="#6cbd84"/>
<rect x="343.67" y="135.46" width="12.32" height="7.27" fill="#24b2ad"/>
<rect x="355.69" y="135.46" width="24.34" height="7.27" fill="#0a99cd"/>
<rect x="379.73" y="135.46" width="12.32" height="7.27" fill="#1284d5"/>
<rect x="391.75" y="135.46" width="12.32" height="7.27" fill="#10a9c0"/>
<rect x="403.77" y="135.46" width="12.32" height="7.27" fill="#24b2ad"/>
<rect x="415.79" y="135.46" width="12.32" height="7.27" fill="#10a9c0"/>
<rect x="427.81" y="135.46" width="12.32" height="7.27" fill="#0a99cd"/>
<rect x="439.82" y="135.46" width="12.32" height="7.27" fill="#1284d5"/>
<rect x="451.84" y="135.46" width="12.32" height="7.27" fill="#24b2ad"/>
<rect x="463.86" y="135.46" width="12.32" height="7.27" fill="#6cbd84"/>
<rect x="475.88" y="135.46" width="12.32" height="7.27" fill="#0a99cd"/>
<rect x="43.20" y="142.43" width="12.32" height="7.27" fill="#44b999"/>
<rect x="55.22" y="142.43" width="24.34" height="7.27" fill="#d1bb59"/>
<rect x="79.26" y="142.43" width="12.32" height="7.27" fill="#0a99cd"/>
<rect x="91.28" y="142.43" width="12.32" height="7.27" fill="#24b2ad"/>
<rect x="103.29" y="142.43" width="12.32" height="7.27" fill="#e7c246"/>
<rect x="115.31" y="142.43" width="12.32" height="7.27" fill="#acbd68"/>
<rect x="127.33" y="142.43" width="12.32" height="7.27" fill="#8fbf74"/>
<rect x="139.35" y="142.43" width="12.32" height="7.27" fill="#24b2ad"/>
<rect x="151.37" y="142.43" width="12.32" height="7.27" fill="#1284d5"/>
<rect x="163.39" y="142.43" width="24.34" height="7.27" fill="#0a99cd"/>
<rect x="187.43" y="142.43" width="12.32" height="7.27" fill="#1284d5"/>
<rect x="199.45" y="142.43" width="12.32" height="7.27" fill="#10a9c0"/>
<rect x="211.46" y="142.43" width="12.32" height="7.27" fill="#fec832"/>
<rect x="223.48" y="142.43" width="12.32" height="7.27" fill="#d1bb59"/>
<rect x="235.50" y="142.43" width="12.32" height="7.27" fill="#24b2ad"/>
<rect x="247.52" y="142.43" width="12.32" height="7.27" fill="#44b999"/>
<rect x="259.54" y="142.43" width="12.32" height="7.27" fill="#1284d5"/>
<rect x="271.56" y="142.43" width="12.32" height="7.27" fill="#24b2ad"/>
<rect x="283.58" y="142.43" width="12.32" height="7.27" fill="#10a9c0"/>
<rect x="295.60" y="142.43" width="12.32" height="7.27" fill="#d1bb59"/>
<rect x="307.62" y="142.43" width="12.32" height="7.27" fill="#24b2ad"/>
<rect x="319.64" y="142.43" width="12.32" height="7.27" fill="#10a9c0"/>
<rect x="331.65" y="142.43" width="12.32" height="7.27" fill="#6cbd84"/>
<rect x="343.67" y="142.43" width="12.32" height="7.27" fill="#44b999"/>
<rect x="355.69" y="142.43" width="24.34" height="7.27" fill="#10a9c0"/>
<rect x="379.73" y="142.43" width="12.32" height="7.27" fill="#1284d5"/>
<rect x="391.75" y="142.43" width="12.32" height="7.27" fill="#24b2ad"/>
<rect x="403.77" y="142.43" width="12.32" height="7.27" fill="#1284d5"/>
<rect x="415.79" y="142.43" width="12.32" height="7.27" fill="#0a99cd"/>
<rect x="427.81" y="142.43" width="12.32" height="7.27" fill="#acbd68"/>
<rect x="439.82" y="142.43" width="12.32" height="7.27" fill="#1284d5"/>
<rect x="451.84" y="142.43" width="12.32" height="7.27" fill="#8fbf74"/>
<rect x="463.86" y="142.43" width="12.32" height="7.27" fill="#10a9c0"/>
<rect x="475.88" y="142.43" width="12.32" height="7.27" fill="#1284d5"/>
<rect x="490.60" y="10.00" width="11.20" height="7.27" fill="#f9fb0e"/>
<rect x="490.60" y="16.97" width="11.20" height="7.27" fill="#fbe61c"/>
<rect x="490.60" y="23.94" width="11.20" height="7.27" fill="#fdd22b"/>
<rect x="490.60" y="30.91" width="11.20" height="7.27" fill="#f5c63a"/>
<rect x="490.60" y="37.88" width="11.20" height="7.27" fill="#e3c04a"/>
<rect x="490.60" y="44.85" width="11.20" height="7.27" fill="#d0bb59"/>
<rect x="490.60" y="51.82" width="11.20" height="7.27" fill="#b3bd65"/>
<rect x="490.60" y="58.79" width="11.20" height="7.27" fill="#96be71"/>
<rect x="490.60" y="65.76" width="11.20" height="7.27" fill="#75bd80"/>
<rect x="490.60" y="72.73" width="11.20" height="7.27" fill="#51ba92"/>
<rect x="490.60" y="79.70" width="11.20" height="7.27" fill="#2eb7a4"/>
<rect x="490.60" y="86.67" width="11.20" height="7.27" fill="#1eafb3"/>
<rect x="490.60" y="93.64" width="11.20" height="7.27" fill="#0ea7c2"/>
<rect x="490.60" y="100.61" width="11.20" height="7.27" fill="#099dcc"/>
<rect x="490.60" y="107.58" width="11.20" height="7.27" fill="#0e8ed1"/>
<rect x="490.60" y="114.55" width="11.20" height="7.27" fill="#1480d6"/>
<rect x="490.60" y="121.52" width="11.20" height="7.27" fill="#1272d9"/>
<rect x="490.60" y="128.49" width="11.20" height="7.27" fill="#1063dc"/>
<rect x="490.60" y="135.46" width="11.20" height="7.27" fill="#1752cc"/>
<rect x="490.60" y="142.43" width="11.20" height="7.27" fill="#263ea9"/>
<rect x="45.30" y="188.90" width="12.64" height="5.14" fill="#fec832"/>
<rect x="57.64" y="188.90" width="24.97" height="5.14" fill="#24b2ad"/>
<rect x="82.31" y="188.90" width="12.64" height="5.14" fill="#6cbd84"/>
<rect x="94.64" y="188.90" width="12.64" height="5.14" fill="#44b999"/>
<rect x="106.98" y="188.90" width="12.64" height="5.14" fill="#6cbd84"/>
<rect x="119.32" y="188.90" width="24.97" height="5.14" fill="#d1bb59"/>
<rect x="143.99" y="188.90" width="12.64" height="5.14" fill="#8fbf74"/>
<rect x="156.32" y="188.90" width="12.64" height="5.14" fill="#44b999"/>
<rect x="168.66" y="188.90" width="12.64" height="5.14" fill="#0a99cd"/>
<rect x="181.00" y="188.90" width="12.64" height="5.14" fill="#8fbf74"/>
<rect x="193.33" y="188.90" width="12.64" height="5.14" fill="#fec832"/>
<rect x="205.67" y="188.90" width="12.64" height="5.14" fill="#d1bb59"/>
<rect x="218.01" y="188.90" width="12.64" height="5.14" fill="#fec832"/>
<rect x="230.34" y="188.90" width="12.64" height="5.14" fill="#8fbf74"/>
<rect x="242.68" y="188.90" width="12.64" height="5.14" fill="#6cbd84"/>
<rect x="255.01" y="188.90" width="12.64" height="5.14" fill="#e7c246"/>
<rect x="267.35" y="188.90" width="12.64" height="5.14" fill="#d1bb59"/>
<rect x="279.69" y="188.90" width="12.64" height="5.14" fill="#6cbd84"/>
<rect x="292.02" y="188.90" width="12.64" height="5.14" fill="#d1bb59"/>
<rect x="304.36" y="188.90" width="12.64" height="5.14" fill="#fec832"/>
<rect x="316.69" y="188.90" width="12.64" height="5.14" fill="#d1bb59"/>
<rect x="329.03" y="188.90" width="12.64" height="5.14" fill="#1284d5"/>
<rect x="341.37" y="188.90" width="12.64" height="5.14" fill="#e7c246"/>
<rect x="353.70" y="188.90" width="12.64" height="5.14" fill="#44b999"/>
<rect x="366.04" y="188.90" width="12.64" height="5.14" fill="#6cbd84"/>
<rect x="378.38" y="188.90" width="12.64" height="5.14" fill="#44b999"/>
<rect x="390.71" y="188.90" width="37.31" height="5.14" fill="#24b2ad"/>
<rect x="427.72" y="188.90" width="12.64" height="5.14" fill="#e7c246"/>
<rect x="440.06" y="188.90" width="12.64" height="5.14" fill="#24b2ad"/>
<rect x="452.39" y="188.90" width="12.64" height="5.14" fill="#acbd68"/>
<rect x="464.73" y="188.90" width="12.64" height="5.14" fill="#1284d5"/>
<rect x="477.06" y="188.90" width="12.64" height="5.14" fill="#e7c246"/>
<rect x="45.30" y="193.74" width="12.64" height="5.14" fill="#0a99cd"/>
<rect x="57.64" y="193.74" width="24.97" height="5.14" fill="#10a9c0"/>
<rect x="82.31" y="193.74" width="12.64" height="5.14" fill="#0a99cd"/>
<rect x="94.64" y="193.74" width="12.64" height="5.14" fill="#116eda"/>
<rect x="106.98" y="193.74" width="12.64" height="5.14" fill="#1752cc"/>
<rect x="119.32" y="193.74" width="12.64" height="5.14" fill="#1284d5"/>
<rect x="131.65" y="193.74" width="24.97" height="5.14" fill="#10a9c0"/>
<rect x="156.32" y="193.74" width="12.64" height="5.14" fill="#8fbf74"/>
<rect x="168.66" y="193.74" width="12.64" height="5.14" fill="#0a99cd"/>
<rect x="181.00" y="193.74" width="12.64" height="5.14" fill="#10a9c0"/>
<rect x="193.33" y="193.74" width="12.64" height="5.14" fill="#44b999"/>
<rect x="205.67" y="193.74" width="12.64" height="5.14" fill="#8fbf74"/>
<rect x="218.01" y="193.74" width="12.64" height="5.14" fill="#0a99cd"/>
<rect x="230.34" y="193.74" width="12.64" height="5.14" fill="#8fbf74"/>
<rect x="242.68" y="193.74" width="12.64" height="5.14" fill="#6cbd84"/>
<rect x="255.01" y="193.74" width="12.64" height="5.14" fill="#d1bb59"/>
<rect x="267.35" y="193.74" width="12.64" height="5.14" fill="#e7c246"/>
<rect x="279.69" y="193.74" width="12.64" height="5.14" fill="#fec832"/>
<rect x="292.02" y="193.74" width="12.64" height="5.14" fill="#d1bb59"/>
<rect x="304.36" y="193.74" width="12.64" height="5.14" fill="#8fbf74"/>
<rect x="316.69" y="193.74" width="12.64" height="5.14" fill="#24b2ad"/>
<rect x="329.03" y="193.74" width="12.64" height="5.14" fill="#1063dc"/>
<rect x="341.37" y="193.74" width="12.64" height="5.14" fill="#24b2ad"/>
<rect x="353.70" y="193.74" width="12.64" height="5.14" fill="#1752cc"/>
<rect x="366.04" y="193.74" width="12.64" height="5.14" fill="#24b2ad"/>
<rect x="378.38" y="193.74" width="12.64" height="5.14" fill="#8fbf74"/>
<rect x="390.71" y="193.74" width="12.64" height="5.14" fill="#1284d5"/>
<rect x="403.05" y="193.74" width="12.64" height="5.14" fill="#0a99cd"/>
<rect x="415.38" y="193.74" width="37.31" height="5.14" fill="#1284d5"/>
<rect x="452.39" y="193.74" width="12.64" height="5.14" fill="#24b2ad"/>
<rect x="464.73" y="193.74" width="12.64" height="5.14" fill="#10a9c0"/>
<rect x="477.06" y="193.74" width="12.64" height="5.14" fill="#116eda"/>
<rect x="45.30" y="198.58" width="12.64" height="5.14" fill="#1752cc"/>
<rect x="57.64" y="198.58" width="12.64" height="5.14" fill="#116eda"/>
<rect x="69.97" y="198.58" width="12.64" height="5.14" fill="#1063dc"/>
<rect x="82.31" y="198.58" width="12.64" height="5.14" fill="#116eda"/>
<rect x="94.64" y="198.58" width="12.64" height="5.14" fill="#24b2ad"/>
<rect x="106.98" y="198.58" width="12.64" height="5.14" fill="#0a99cd"/>
<rect x="119.32" y="198.58" width="12.64" height="5.14" fill="#acbd68"/>
<rect x="131.65" y="198.58" width="12.64" height="5.14" fill="#d1bb59"/>
<rect x="143.99" y="198.58" width="12.64" height="5.14" fill="#8fbf74"/>
<rect x="156.32" y="198.58" width="12.64" height="5.14" fill="#e7c246"/>
<rect x="168.66" y="198.58" width="12.64" height="5.14" fill="#8fbf74"/>
<rect x="181.00" y="198.58" width="12.64" height="5.14" fill="#e7c246"/>
<rect x="193.33" y="198.58" width="12.64" height="5.14" fill="#6cbd84"/>
<rect x="205.67" y="198.58" width="37.31" height="5.14" fill="#10a9c0"/>
<rect x="242.68" y="198.58" width="12.64" height="5.14" fill="#fec832"/>
<rect x="255.01" y="198.58" width="12.64" height="5.14" fill="#d1bb59"/>
<rect x="267.35" y="198.58" width="12.64" height="5.14" fill="#e7c246"/>
<rect x="279.69" y="198.58" width="12.64" height="5.14" fill="#fbe220"/>
<rect x="292.02" y="198.58" width="12.64" height="5.14" fill="#44b999"/>
<rect x="304.36" y="198.58" width="12.64" height="5.14" fill="#0a99cd"/>
<rect x="316.69" y="198.58" width="12.64" height="5.14" fill="#116eda"/>
<rect x="329.03" y="198.58" width="12.64" height="5.14" fill="#10a9c0"/>
<rect x="341.37" y="198.58" width="12.64" height="5.14" fill="#24b2ad"/>
<rect x="353.70" y="198.58" width="12.64" height="5.14" fill="#0a99cd"/>
<rect x="366.04" y="198.58" width="12.64" height="5.14" fill="#116eda"/>
<rect x="378.38" y="198.58" width="12.64" height="5.14" fill="#24b2ad"/>
<rect x="390.71" y="198.58" width="12.64" height="5.14" fill="#1284d5"/>
<rect x="403.05" y="198.58" width="24.97" height="5.14" fill="#10a9c0"/>
<rect x="427.72" y="198.58" width="12.64" height="5.14" fill="#1284d5"/>
<rect x="440.06" y="198.58" width="24.97" height="5.14" fill="#116eda"/>
<rect x="464.73" y="198.58" width="12.64" height="5.14" fill="#10a9c0"/>
<rect x="477.06" y="198.58" width="12.64" height="5.14" fill="#0a99cd"/>
<rect x="45.30" y="203.42" width="12.64" height="5.14" fill="#0a99cd"/>
<rect x="57.64" y="203.42" width="24.97" height="5.14" fill="#1284d5"/>
<rect x="82.31" y="203.42" width="12.64" height="5.14" fill="#1063dc"/>
<rect x="94.64" y="203.42" width="24.97" height="5.14" fill="#24b2ad"/>
<rect x="119.32" y="203.42" width="12.64" height="5.14" fill="#6cbd84"/>
<rect x="131.65" y="203.42" width="12.64" height="5.14" fill="#8fbf74"/>
<rect x="143.99" y="203.42" width="37.31" height="5.14" fill="#e7c246"/>
<rect x="181.00" y="203.42" width="12.64" height="5.14" fill="#d1bb59"/>
<rect x="193.33" y="203.42" width="12.64" height="5.14" fill="#fbe220"/>
<rect x="205.67" y="203.42" width="12.64" height="5.14" fill="#d1bb59"/>
<rect x="218.01" y="203.42" width="12.64" height="5.14" fill="#6cbd84"/>
<rect x="230.34" y="203.42" width="12.64" height="5.14" fill="#0a99cd"/>
<rect x="242.68" y="203.42" width="12.64" height="5.14" fill="#6cbd84"/>
<rect x="255.01" y="203.42" width="12.64" height="5.14" fill="#d1bb59"/>
<rect x="267.35" y="203.42" width="12.64" height="5.14" fill="#e7c246"/>
<rect x="279.69" y="203.42" width="24.97" height="5.14" fill="#6cbd84"/>
<rect x="304.36" y="203.42" width="37.31" height="5.14" fill="#24b2ad"/>
<rect x="341.37" y="203.42" width="12.64" height="5.14" fill="#10a9c0"/>
<rect x="353.70" y="203.42" width="12.64" height="5.14" fill="#1284d5"/>
<rect x="366.04" y="203.42" width="12.64" height="5.14" fill="#0a99cd"/>
<rect x="378.38" y="203.42" width="12.64" height="5.14" fill="#10a9c0"/>
<rect x="390.71" y="203.42" width="12.64" height="5.14" fill="#0a99cd"/>
<rect x="403.05" y="203.42" width="24.97" height="5.14" fill="#1284d5"/>
<rect x="427.72" y="203.42" width="24.97" height="5.14" fill="#0a99cd"/>
<rect x="452.39" y="203.42" width="12.64" height="5.14" fill="#10a9c0"/>
<rect x="464.73" y="203.42" width="12.64" height="5.14" fill="#1063dc"/>
<rect x="477.06" y="203.42" width="12.64" height="5.14" fill="#0a99cd"/>
<rect x="45.30" y="208.26" width="12.64" height="5.14" fill="#0a99cd"/>
<rect x="57.64" y="208.26" width="12.64" height="5.14" fill="#116eda"/>
<rect x="69.97" y="208.26" width="12.64" height="5.14" fill="#0a99cd"/>
<rect x="82.31" y="208.26" width="12.64" height="5.14" fill="#10a9c0"/>
<rect x="94.64" y="208.26" width="24.97" height="5.14" fill="#0a99cd"/>
<rect x="119.32" y="208.26" width="24.97" height="5.14" fill="#44b999"/>
<rect x="143.99" y="208.26" width="12.64" height="5.14" fill="#acbd68"/>
<rect x="156.32" y="208.26" width="24.97" height="5.14" fill="#d1bb59"/>
<rect x="181.00" y="208.26" width="12.64" height="5.14" fill="#fec832"/>
<rect x="193.33" y="208.26" width="12.64" height="5.14" fill="#e7c246"/>
<rect x="205.67" y="208.26" width="24.97" height="5.14" fill="#8fbf74"/>
<rect x="230.34" y="208.26" width="12.64" height="5.14" fill="#6cbd84"/>
<rect x="242.68" y="208.26" width="12.64" height="5.14" fill="#24b2ad"/>
<rect x="255.01" y="208.26" width="12.64" height="5.14" fill="#acbd68"/>
<rect x="267.35" y="208.26" width="12.64" height="5.14" fill="#e7c246"/>
<rect x="279.69" y="208.26" width="12.64" height="5.14" fill="#0a99cd"/>
<rect x="292.02" y="208.26" width="12.64" height="5.14" fill="#6cbd84"/>
<rect x="304.36" y="208.26" width="12.64" height="5.14" fill="#24b2ad"/>
<rect x="316.69" y="208.26" width="12.64" height="5.14" fill="#44b999"/>
<rect x="329.03" y="208.26" width="12.64" height="5.14" fill="#10a9c0"/>
<rect x="341.37" y="208.26" width="12.64" height="5.14" fill="#0a99cd"/>
<rect x="353.70" y="208.26" width="37.31" height="5.14" fill="#10a9c0"/>
<rect x="390.71" y="208.26" width="12.64" height="5.14" fill="#0a99cd"/>
<rect x="403.05" y="208.26" width="24.97" height="5.14" fill="#1284d5"/>
<rect x="427.72" y="208.26" width="12.64" height="5.14" fill="#0a99cd"/>
<rect x="440.06" y="208.26" width="12.64" height="5.14" fill="#24b2ad"/>
<rect x="452.39" y="208.26" width="12.64" height="5.14" fill="#10a9c0"/>
<rect x="464.73" y="208.26" width="12.64" height="5.14" fill="#116eda"/>
<rect x="477.06" y="208.26" width="12.64" height="5.14" fill="#10a9c0"/>
<rect x="45.30" y="213.10" width="12.64" height="5.14" fill="#0a99cd"/>
<rect x="57.64" y="213.10" width="37.31" height="5.14" fill="#10a9c0"/>
<rect x="94.64" y="213.10" width="24.97" height="5.14" fill="#0a99cd"/>
<rect x="119.32" y="213.10" width="12.64" height="5.14" fill="#24b2ad"/>
<rect x="131.65" y="213.10" width="12.64" height="5.14" fill="#acbd68"/>
<rect x="143.99" y="213.10" width="12.64" height="5.14" fill="#d1bb59"/>
<rect x="156.32" y="213.10" width="24.97" height="5.14" fill="#e7c246"/>
<rect x="181.00" y="213.10" width="12.64" height="5.14" fill="#d1bb59"/>
<rect x="193.33" y="213.10" width="12.64" height="5.14" fill="#6cbd84"/>
<rect x="205.67" y="213.10" width="12.64" height="5.14" fill="#d1bb59"/>
<rect x="218.01" y="213.10" width="12.64" height="5.14" fill="#8fbf74"/>
<rect x="230.34" y="213.10" width="12.64" height="5.14" fill="#6cbd84"/>
<rect x="242.68" y="213.10" width="12.64" height="5.14" fill="#44b999"/>
<rect x="255.01" y="213.10" width="12.64" height="5.14" fill="#6cbd84"/>
<rect x="267.35" y="213.10" width="12.64" height="5.14" fill="#e7c246"/>
<rect x="279.69" y="213.10" width="12.64" height="5.14" fill="#24b2ad"/>
<rect x="292.02" y="213.10" width="12.64" height="5.14" fill="#10a9c0"/>
<rect x="304.36" y="213.10" width="12.64" height="5.14" fill="#24b2ad"/>
<rect x="316.69" y="213.10" width="12.64" height="5.14" fill="#6cbd84"/>
<rect x="329.03" y="213.10" width="12.64" height="5.14" fill="#1284d5"/>
<rect x="341.37" y="213.10" width="12.64" height="5.14" fill="#10a9c0"/>
<rect x="353.70" y="213.10" width="12.64" height="5.14" fill="#0a99cd"/>
<rect x="366.04" y="213.10" width="12.64" height="5.14" fill="#10a9c0"/>
<rect x="378.38" y="213.10" width="12.64" height="5.14" fill="#1284d5"/>
<rect x="390.71" y="213.10" width="12.64" height="5.14" fill="#0a99cd"/>
<rect x="403.05" y="213.10" width="12.64" height="5.14" fill="#116eda"/>
<rect x="415.38" y="213.10" width="12.64" height="5.14" fill="#0a99cd"/>
<rect x="427.72" y="213.10" width="24.97" height="5.14" fill="#10a9c0"/>
<rect x="452.39" y="213.10" width="12.64" height="5.14" fill="#24b2ad"/>
<rect x="464.73" y="213.10" width="12.64" height="5.14" fill="#1284d5"/>
<rect x="477.06" y="213.10" width="12.64" height="5.14" fill="#24b2ad"/>
<rect x="45.30" y="217.94" width="12.64" height="5.14" fill="#0a99cd"/>
<rect x="57.64" y="217.94" width="12.64" height="5.14" fill="#44b999"/>
<rect x="69.97" y="217.94" width="24.97" height="5.14" fill="#24b2ad"/>
<rect x="94.64" y="217.94" width="24.97" height="5.14" fill="#10a9c0"/>
<rect x="119.32" y="217.94" width="12.64" height="5.14" fill="#44b999"/>
<rect x="131.65" y="217.94" width="12.64" height="5.14" fill="#8fbf74"/>
<rect x="143.99" y="217.94" width="24.97" height="5.14" fill="#d1bb59"/>
<rect x="168.66" y="217.94" width="37.31" height="5.14" fill="#6cbd84"/>
<rect x="205.67" y="217.94" width="12.64" height="5.14" fill="#24b2ad"/>
<rect x="218.01" y="217.94" width="12.64" height="5.14" fill="#8fbf74"/>
<rect x="230.34" y="217.94" width="24.97" height="5.14" fill="#6cbd84"/>
<rect x="255.01" y="217.94" width="12.64" height="5.14" fill="#44b999"/>
<rect x="267.35" y="217.94" width="12.64" height="5.14" fill="#d1bb59"/>
<rect x="279.69" y="217.94" width="12.64" height="5.14" fill="#24b2ad"/>
<rect x="292.02" y="217.94" width="12.64" height="5.14" fill="#10a9c0"/>
<rect x="304.36" y="217.94" width="49.64" height="5.14" fill="#24b2ad"/>
<rect x="353.70" y="217.94" width="24.97" height="5.14" fill="#10a9c0"/>
<rect x="378.38" y="217.94" width="24.97" height="5.14" fill="#0a99cd"/>
<rect x="403.05" y="217.94" width="12.64" height="5.14" fill="#1284d5"/>
<rect x="415.38" y="217.94" width="24.97" height="5.14" fill="#0a99cd"/>
<rect x="440.06" y="217.94" width="24.97" height="5.14" fill="#10a9c0"/>
<rect x="464.73" y="217.94" width="12.64" height="5.14" fill="#0a99cd"/>
<rect x="477.06" y="217.94" width="12.64" height="5.14" fill="#10a9c0"/>
<rect x="45.30" y="222.78" width="12.64" height="5.14" fill="#0a99cd"/>
<rect x="57.64" y="222.78" width="12.64" height="5.14" fill="#6cbd84"/>
<rect x="69.97" y="222.78" width="12.64" height="5.14" fill="#44b999"/>
<rect x="82.31" y="222.78" width="24.97" height="5.14" fill="#10a9c0"/>
<rect x="106.98" y="222.78" width="12.64" height="5.14" fill="#0a99cd"/>
<rect x="119.32" y="222.78" width="12.64" height="5.14" fill="#10a9c0"/>
<rect x="131.65" y="222.78" width="12.64" height="5.14" fill="#acbd68"/>
<rect x="143.99" y="222.78" width="12.64" height="5.14" fill="#8fbf74"/>
<rect x="156.32" y="222.78" width="12.64" height="5.14" fill="#d1bb59"/>
<rect x="168.66" y="222.78" width="12.64" height="5.14" fill="#6cbd84"/>
<rect x="181.00" y="222.78" width="12.64" height="5.14" fill="#8fbf74"/>
<rect x="193.33" y="222.78" width="12.64" height="5.14" fill="#6cbd84"/>
<rect x="205.67" y="222.78" width="12.64" height="5.14" fill="#24b2ad"/>
<rect x="218.01" y="222.78" width="12.64" height="5.14" fill="#44b999"/>
<rect x="230.34" y="222.78" width="12.64" height="5.14" fill="#6cbd84"/>
<rect x="242.68" y="222.78" width="12.64" height="5.14" fill="#44b999"/>
<rect x="255.01" y="222.78" width="24.97" height="5.14" fill="#24b2ad"/>
<rect x="279.69" y="222.78" width="12.64" height="5.14" fill="#10a9c0"/>
<rect x="292.02" y="222.78" width="12.64" height="5.14" fill="#24b2ad"/>
<rect x="304.36" y="222.78" width="12.64" height="5.14" fill="#10a9c0"/>
<rect x="316.69" y="222.78" width="12.64" height="5.14" fill="#24b2ad"/>
<rect x="329.03" y="222.78" width="24.97" height="5.14" fill="#6cbd84"/>
<rect x="353.70" y="222.78" width="24.97" height="5.14" fill="#24b2ad"/>
<rect x="378.38" y="222.78" width="12.64" height="5.14" fill="#10a9c0"/>
<rect x="390.71" y="222.78" width="24.97" height="5.14" fill="#1284d5"/>
<rect x="415.38" y="222.78" width="12.64" height="5.14" fill="#24b2ad"/>
<rect x="427.72" y="222.78" width="12.64" height="5.14" fill="#0a99cd"/>
<rect x="440.06" y="222.78" width="37.31" height="5.14" fill="#10a9c0"/>
<rect x="477.06" y="222.78" width="12.64" height="5.14" fill="#0a99cd"/>
<rect x="45.30" y="227.62" width="12.64" height="5.14" fill="#0a99cd"/>
<rect x="57.64" y="227.62" width="24.97" height="5.14" fill="#44b999"/>
<rect x="82.31" y="227.62" width="24.97" height="5.14" fill="#24b2ad"/>
<rect x="106.98" y="227.62" width="12.64" height="5.14" fill="#10a9c0"/>
<rect x="119.32" y="227.62" width="12.64" height="5.14" fill="#24b2ad"/>
<rect x="131.65" y="227.62" width="24.97" height="5.14" fill="#8fbf74"/>
<rect x="156.32" y="227.62" width="12.64" height="5.14" fill="#acbd68"/>
<rect x="168.66" y="227.62" width="12.64" height="5.14" fill="#44b999"/>
<rect x="181.00" y="227.62" width="12.64" height="5.14" fill="#8fbf74"/>
<rect x="193.33" y="227.62" width="12.64" height="5.14" fill="#6cbd84"/>
<rect x="205.67" y="227.62" width="12.64" height="5.14" fill="#44b999"/>
<rect x="218.01" y="227.62" width="37.31" height="5.14" fill="#24b2ad"/>
<rect x="255.01" y="227.62" width="37.31" height="5.14" fill="#10a9c0"/>
<rect x="292.02" y="227.62" width="24.97" height="5.14" fill="#24b2ad"/>
<rect x="316.69" y="227.62" width="12.64" height="5.14" fill="#10a9c0"/>
<rect x="329.03" y="227.62" width="37.31" height="5.14" fill="#44b999"/>
<rect x="366.04" y="227.62" width="12.64" height="5.14" fill="#6cbd84"/>
<rect x="378.38" y="227.62" width="12.64" height="5.14" fill="#44b999"/>
<rect x="390.71" y="227.62" width="12.64" height="5.14" fill="#24b2ad"/>
<rect x="403.05" y="227.62" width="12.64" height="5.14" fill="#0a99cd"/>
<rect x="415.38" y="227.62" width="37.31" height="5.14" fill="#24b2ad"/>
<rect x="452.39" y="227.62" width="12.64" height="5.14" fill="#10a9c0"/>
<rect x="464.73" y="227.62" width="12.64" height="5.14" fill="#0a99cd"/>
<rect x="477.06" y="227.62" width="12.64" height="5.14" fill="#10a9c0"/>
<rect x="45.30" y="232.46" width="12.64" height="5.14" fill="#0a99cd"/>
<rect x="57.64" y="232.46" width="12.64" height="5.14" fill="#10a9c0"/>
<rect x="69.97" y="232.46" width="24.97" height="5.14" fill="#6cbd84"/>
<rect x="94.64" y="232.46" width="12.64" height="5.14" fill="#24b2ad"/>
<rect x="106.98" y="232.46" width="12.64" height="5.14" fill="#10a9c0"/>
<rect x="119.32" y="232.46" width="12.64" height="5.14" fill="#24b2ad"/>
<rect x="131.65" y="232.46" width="12.64" height="5.14" fill="#6cbd84"/>
<rect x="143.99" y="232.46" width="12.64" height="5.14" fill="#8fbf74"/>
<rect x="156.32" y="232.46" width="12.64" height="5.14" fill="#acbd68"/>
<rect x="168.66" y="232.46" width="12.64" height="5.14" fill="#24b2ad"/>
<rect x="181.00" y="232.46" width="24.97" height="5.14" fill="#6cbd84"/>
<rect x="205.67" y="232.46" width="12.64" height="5.14" fill="#44b999"/>
<rect x="218.01" y="232.46" width="12.64" height="5.14" fill="#24b2ad"/>
<rect x="230.34" y="232.46" width="12.64" height="5.14" fill="#10a9c0"/>
<rect x="242.68" y="232.46" width="24.97" height="5.14" fill="#0a99cd"/>
<rect x="267.35" y="232.46" width="24.97" height="5.14" fill="#10a9c0"/>
<rect x="292.02" y="232.46" width="12.64" height="5.14" fill="#44b999"/>
<rect x="304.36" y="232.46" width="24.97" height="5.14" fill="#24b2ad"/>
<rect x="329.03" y="232.46" width="12.64" height="5.14" fill="#8fbf74"/>
<rect x="341.37" y="232.46" width="49.64" height="5.14" fill="#6cbd84"/>
<rect x="390.71" y="232.46" width="12.64" height="5.14" fill="#44b999"/>
<rect x="403.05" y="232.46" width="12.64" height="5.14" fill="#24b2ad"/>
<rect x="415.38" y="232.46" width="37.31" height="5.14" fill="#44b999"/>
<rect x="452.39" y="232.46" width="12.64" height="5.14" fill="#10a9c0"/>
<rect x="464.73" y="232.46" width="24.97" height="5.14" fill="#0a99cd"/>
<rect x="45.30" y="237.30" width="12.64" height="5.14" fill="#10a9c0"/>
<rect x="57.64" y="237.30" width="24.97" height="5.14" fill="#44b999"/>
<rect x="82.31" y="237.30" width="12.64" height="5.14" fill="#6cbd84"/>
<rect x="94.64" y="237.30" width="12.64" height="5.14" fill="#24b2ad"/>
<rect x="106.98" y="237.30" width="24.97" height="5.14" fill="#10a9c0"/>
<rect x="131.65" y="237.30" width="12.64" height="5.14" fill="#44b999"/>
<rect x="143.99" y="237.30" width="12.64" height="5.14" fill="#8fbf74"/>
<rect x="156.32" y="237.30" width="12.64" height="5.14" fill="#acbd68"/>
<rect x="168.66" y="237.30" width="37.31" height="5.14" fill="#44b999"/>
<rect x="205.67" y="237.30" width="12.64" height="5.14" fill="#24b2ad"/>
<rect x="218.01" y="237.30" width="37.31" height="5.14" fill="#0a99cd"/>
<rect x="255.01" y="237.30" width="12.64" height="5.14" fill="#1752cc"/>
<rect x="267.35" y="237.30" width="12.64" height="5.14" fill="#0a99cd"/>
<rect x="279.69" y="237.30" width="12.64" height="5.14" fill="#10a9c0"/>
<rect x="292.02" y="237.30" width="12.64" height="5.14" fill="#24b2ad"/>
<rect x="304.36" y="237.30" width="12.64" height="5.14" fill="#44b999"/>
<rect x="316.69" y="237.30" width="12.64" height="5.14" fill="#6cbd84"/>
<rect x="329.03" y="237.30" width="37.31" height="5.14" fill="#44b999"/>
<rect x="366.04" y="237.30" width="12.64" height="5.14" fill="#8fbf74"/>
<rect x="378.38" y="237.30" width="12.64" height="5.14" fill="#6cbd84"/>
<rect x="390.71" y="237.30" width="12.64" height="5.14" fill="#10a9c0"/>
<rect x="403.05" y="237.30" width="12.64" height="5.14" fill="#24b2ad"/>
<rect x="415.38" y="237.30" width="12.64" height="5.14" fill="#44b999"/>
<rect x="427.72" y="237.30" width="12.64" height="5.14" fill="#6cbd84"/>
<rect x="440.06" y="237.30" width="12.64" height="5.14" fill="#44b999"/>
<rect x="452.39" y="237.30" width="12.64" height="5.14" fill="#24b2ad"/>
<rect x="464.73" y="237.30" width="24.97" height="5.14" fill="#10a9c0"/>
<rect x="45.30" y="242.14" width="12.64" height="5.14" fill="#0a99cd"/>
<rect x="57.64" y="242.14" width="24.97" height="5.14" fill="#24b2ad"/>
<rect x="82.31" y="242.14" width="61.98" height="5.14" fill="#44b999"/>
<rect x="143.99" y="242.14" width="12.64" height="5.14" fill="#6cbd84"/>
<rect x="156.32" y="242.14" width="12.64" height="5.14" fill="#d1bb59"/>
<rect x="168.66" y="242.14" width="12.64" height="5.14" fill="#44b999"/>
<rect x="181.00" y="242.14" width="24.97" height="5.14" fill="#24b2ad"/>
<rect x="205.67" y="242.14" width="12.64" height="5.14" fill="#10a9c0"/>
<rect x="218.01" y="242.14" width="24.97" height="5.14" fill="#1284d5"/>
<rect x="242.68" y="242.14" width="12.64" height="5.14" fill="#0a99cd"/>
<rect x="255.01" y="242.14" width="12.64" height="5.14" fill="#116eda"/>
<rect x="267.35" y="242.14" width="12.64" height="5.14" fill="#0a99cd"/>
<rect x="279.69" y="242.14" width="12.64" height="5.14" fill="#10a9c0"/>
<rect x="292.02" y="242.14" width="24.97" height="5.14" fill="#24b2ad"/>
<rect x="316.69" y="242.14" width="49.64" height="5.14" fill="#6cbd84"/>
<rect x="366.04" y="242.14" width="24.97" height="5.14" fill="#8fbf74"/>
<rect x="390.71" y="242.14" width="12.64" height="5.14" fill="#44b999"/>
<rect x="403.05" y="242.14" width="12.64" height="5.14" fill="#8fbf74"/>
<rect x="415.38" y="242.14" width="12.64" height="5.14" fill="#6cbd84"/>
<rect x="427.72" y="242.14" width="12.64" height="5.14" fill="#8fbf74"/>
<rect x="440.06" y="242.14" width="12.64" height="5.14" fill="#44b999"/>
<rect x="452.39" y="242.14" width="12.64" height="5.14" fill="#24b2ad"/>
<rect x="464.73" y="242.14" width="12.64" height="5.14" fill="#10a9c0"/>
<rect x="477.06" y="242.14" width="12.64" height="5.14" fill="#1284d5"/>
<rect x="45.30" y="246.98" width="12.64" height="5.14" fill="#0a99cd"/>
<rect x="57.64" y="246.98" width="24.97" height="5.14" fill="#24b2ad"/>
<rect x="82.31" y="246.98" width="24.97" height="5.14" fill="#6cbd84"/>
<rect x="106.98" y="246.98" width="12.64" height="5.14" fill="#44b999"/>
<rect x="119.32" y="246.98" width="12.64" height="5.14" fill="#24b2ad"/>
<rect x="131.65" y="246.98" width="12.64" height="5.14" fill="#8fbf74"/>
<rect x="143.99" y="246.98" width="24.97" height="5.14" fill="#fec832"/>
<rect x="168.66" y="246.98" width="12.64" height="5.14" fill="#6cbd84"/>
<rect x="181.00" y="246.98" width="12.64" height="5.14" fill="#24b2ad"/>
<rect x="193.33" y="246.98" width="12.64" height="5.14" fill="#0a99cd"/>
<rect x="205.67" y="246.98" width="12.64" height="5.14" fill="#1284d5"/>
<rect x="218.01" y="246.98" width="12.64" height="5.14" fill="#116eda"/>
<rect x="230.34" y="246.98" width="12.64" height="5.14" fill="#1284d5"/>
<rect x="242.68" y="246.98" width="12.64" height="5.14" fill="#0a99cd"/>
<rect x="255.01" y="246.98" width="24.97" height="5.14" fill="#1284d5"/>
<rect x="279.69" y="246.98" width="12.64" height="5.14" fill="#0a99cd"/>
<rect x="292.02" y="246.98" width="12.64" height="5.14" fill="#10a9c0"/>
<rect x="304.36" y="246.98" width="12.64" height="5.14" fill="#24b2ad"/>
<rect x="316.69" y="246.98" width="12.64" height="5.14" fill="#6cbd84"/>
<rect x="329.03" y="246.98" width="12.64" height="5.14" fill="#d1bb59"/>
<rect x="341.37" y="246.98" width="12.64" height="5.14" fill="#acbd68"/>
<rect x="353.70" y="246.98" width="12.64" height="5.14" fill="#6cbd84"/>
<rect x="366.04" y="246.98" width="12.64" height="5.14" fill="#8fbf74"/>
<rect x="378.38" y="246.98" width="12.64" height="5.14" fill="#d1bb59"/>
<rect x="390.71" y="246.98" width="12.64" height="5.14" fill="#8fbf74"/>
<rect x="403.05" y="246.98" width="24.97" height="5.14" fill="#6cbd84"/>
<rect x="427.72" y="246.98" width="12.64" height="5.14" fill="#8fbf74"/>
<rect x="440.06" y="246.98" width="12.64" height="5.14" fill="#acbd68"/>
<rect x="452.39" y="246.98" width="12.64" height="5.14" fill="#44b999"/>
<rect x="464.73" y="246.98" width="24.97" height="5.14" fill="#24b2ad"/>
<rect x="45.30" y="251.82" width="12.64" height="5.14" fill="#0a99cd"/>
<rect x="57.64" y="251.82" width="12.64" height="5.14" fill="#44b999"/>
<rect x="69.97" y="251.82" width="12.64" height="5.14" fill="#6cbd84"/>
<rect x="82.31" y="251.82" width="24.97" height="5.14" fill="#8fbf74"/>
<rect x="106.98" y="251.82" width="12.64" height="5.14" fill="#6cbd84"/>
<rect x="119.32" y="251.82" width="24.97" height="5.14" fill="#8fbf74"/>
<rect x="143.99" y="251.82" width="24.97" height="5.14" fill="#f9fb0e"/>
<rect x="168.66" y="251.82" width="12.64" height="5.14" fill="#6cbd84"/>
<rect x="181.00" y="251.82" width="12.64" height="5.14" fill="#24b2ad"/>
<rect x="193.33" y="251.82" width="24.97" height="5.14" fill="#0a99cd"/>
<rect x="218.01" y="251.82" width="37.31" height="5.14" fill="#1284d5"/>
<rect x="255.01" y="251.82" width="12.64" height="5.14" fill="#0a99cd"/>
<rect x="267.35" y="251.82" width="12.64" height="5.14" fill="#1284d5"/>
<rect x="279.69" y="251.82" width="12.64" height="5.14" fill="#116eda"/>
<rect x="292.02" y="251.82" width="12.64" height="5.14" fill="#10a9c0"/>
<rect x="304.36" y="251.82" width="12.64" height="5.14" fill="#24b2ad"/>
<rect x="316.69" y="251.82" width="24.97" height="5.14" fill="#44b999"/>
<rect x="341.37" y="251.82" width="24.97" height="5.14" fill="#8fbf74"/>
<rect x="366.04" y="251.82" width="12.64" height="5.14" fill="#6cbd84"/>
<rect x="378.38" y="251.82" width="12.64" height="5.14" fill="#d1bb59"/>
<rect x="390.71" y="251.82" width="12.64" height="5.14" fill="#8fbf74"/>
<rect x="403.05" y="251.82" width="12.64" height="5.14" fill="#44b999"/>
<rect x="415.38" y="251.82" width="49.64" height="5.14" fill="#6cbd84"/>
<rect x="464.73" y="251.82" width="12.64" height="5.14" fill="#24b2ad"/>
<rect x="477.06" y="251.82" width="12.64" height="5.14" fill="#10a9c0"/>
<rect x="45.30" y="256.66" width="12.64" height="5.14" fill="#0a99cd"/>
<rect x="57.64" y="256.66" width="12.64" height="5.14" fill="#6cbd84"/>
<rect x="69.97" y="256.66" width="12.64" height="5.14" fill="#44b999"/>
<rect x="82.31" y="256.66" width="12.64" height="5.14" fill="#6cbd84"/>
<rect x="94.64" y="256.66" width="12.64" height="5.14" fill="#8fbf74"/>
<rect x="106.98" y="256.66" width="12.64" height="5.14" fill="#44b999"/>
<rect x="119.32" y="256.66" width="12.64" height="5.14" fill="#d1bb59"/>
<rect x="131.65" y="256.66" width="12.64" height="5.14" fill="#8fbf74"/>
<rect x="143.99" y="256.66" width="24.97" height="5.14" fill="#f9fb0e"/>
<rect x="168.66" y="256.66" width="12.64" height="5.14" fill="#d1bb59"/>
<rect x="181.00" y="256.66" width="12.64" height="5.14" fill="#24b2ad"/>
<rect x="193.33" y="256.66" width="12.64" height="5.14" fill="#0a99cd"/>
<rect x="205.67" y="256.66" width="12.64" height="5.14" fill="#10a9c0"/>
<rect x="218.01" y="256.66" width="24.97" height="5.14" fill="#0a99cd"/>
<rect x="242.68" y="256.66" width="12.64" height="5.14" fill="#1284d5"/>
<rect x="255.01" y="256.66" width="12.64" height="5.14" fill="#0a99cd"/>
<rect x="267.35" y="256.66" width="24.97" height="5.14" fill="#1284d5"/>
<rect x="292.02" y="256.66" width="12.64" height="5.14" fill="#10a9c0"/>
<rect x="304.36" y="256.66" width="37.31" height="5.14" fill="#24b2ad"/>
<rect x="341.37" y="256.66" width="12.64" height="5.14" fill="#6cbd84"/>
<rect x="353.70" y="256.66" width="24.97" height="5.14" fill="#44b999"/>
<rect x="378.38" y="256.66" width="12.64" height="5.14" fill="#acbd68"/>
<rect x="390.71" y="256.66" width="12.64" height="5.14" fill="#8fbf74"/>
<rect x="403.05" y="256.66" width="12.64" height="5.14" fill="#44b999"/>
<rect x="415.38" y="256.66" width="12.64" height="5.14" fill="#6cbd84"/>
<rect x="427.72" y="256.66" width="37.31" height="5.14" fill="#44b999"/>
<rect x="464.73" y="256.66" width="24.97" height="5.14" fill="#10a9c0"/>
<rect x="45.30" y="261.50" width="12.64" height="5.14" fill="#116eda"/>
<rect x="57.64" y="261.50" width="37.31" height="5.14" fill="#8fbf74"/>
<rect x="94.64" y="261.50" width="12.64" height="5.14" fill="#44b999"/>
<rect x="106.98" y="261.50" width="12.64" height="5.14" fill="#6cbd84"/>
<rect x="119.32" y="261.50" width="24.97" height="5.14" fill="#d1bb59"/>
<rect x="143.99" y="261.50" width="24.97" height="5.14" fill="#f9fb0e"/>
<rect x="168.66" y="261.50" width="12.64" height="5.14" fill="#e7c246"/>
<rect x="181.00" y="261.50" width="12.64" height="5.14" fill="#24b2ad"/>
<rect x="193.33" y="261.50" width="37.31" height="5.14" fill="#1284d5"/>
<rect x="230.34" y="261.50" width="37.31" height="5.14" fill="#0a99cd"/>
<rect x="267.35" y="261.50" width="37.31" height="5.14" fill="#10a9c0"/>
<rect x="304.36" y="261.50" width="37.31" height="5.14" fill="#24b2ad"/>
<rect x="341.37" y="261.50" width="24.97" height="5.14" fill="#44b999"/>
<rect x="366.04" y="261.50" width="12.64" height="5.14" fill="#24b2ad"/>
<rect x="378.38" y="261.50" width="12.64" height="5.14" fill="#8fbf74"/>
<rect x="390.71" y="261.50" width="12.64" height="5.14" fill="#d1bb59"/>
<rect x="403.05" y="261.50" width="12.64" height="5.14" fill="#8fbf74"/>
<rect x="415.38" y="261.50" width="37.31" height="5.14" fill="#44b999"/>
<rect x="452.39" y="261.50" width="12.64" height="5.14" fill="#6cbd84"/>
<rect x="464.73" y="261.50" width="24.97" height="5.14" fill="#24b2ad"/>
<rect x="45.30" y="266.34" width="12.64" height="5.14" fill="#24b2ad"/>
<rect x="57.64" y="266.34" width="12.64" height="5.14" fill="#8fbf74"/>
<rect x="69.97" y="266.34" width="12.64" height="5.14" fill="#acbd68"/>
<rect x="82.31" y="266.34" width="12.64" height="5.14" fill="#44b999"/>
<rect x="94.64" y="266.34" width="12.64" height="5.14" fill="#24b2ad"/>
<rect x="106.98" y="266.34" width="12.64" height="5.14" fill="#6cbd84"/>
<rect x="119.32" y="266.34" width="12.64" height="5.14" fill="#e7c246"/>
<rect x="131.65" y="266.34" width="12.64" height="5.14" fill="#d1bb59"/>
<rect x="143.99" y="266.34" width="24.97" height="5.14" fill="#f9fb0e"/>
<rect x="168.66" y="266.34" width="12.64" height="5.14" fill="#e7c246"/>
<rect x="181.00" y="266.34" width="12.64" height="5.14" fill="#24b2ad"/>
<rect x="193.33" y="266.34" width="12.64" height="5.14" fill="#1284d5"/>
<rect x="205.67" y="266.34" width="12.64" height="5.14" fill="#116eda"/>
<rect x="218.01" y="266.34" width="12.64" height="5.14" fill="#1284d5"/>
<rect x="230.34" y="266.34" width="12.64" height="5.14" fill="#0a99cd"/>
<rect x="242.68" y="266.34" width="12.64" height="5.14" fill="#1284d5"/>
<rect x="255.01" y="266.34" width="12.64" height="5.14" fill="#0a99cd"/>
<rect x="267.35" y="266.34" width="12.64" height="5.14" fill="#10a9c0"/>
<rect x="279.69" y="266.34" width="12.64" height="5.14" fill="#0a99cd"/>
<rect x="292.02" y="266.34" width="37.31" height="5.14" fill="#10a9c0"/>
<rect x="329.03" y="266.34" width="37.31" height="5.14" fill="#24b2ad"/>
<rect x="366.04" y="266.34" width="12.64" height="5.14" fill="#6cbd84"/>
<rect x="378.38" y="266.34" width="12.64" height="5.14" fill="#acbd68"/>
<rect x="390.71" y="266.34" width="12.64" height="5.14" fill="#d1bb59"/>
<rect x="403.05" y="266.34" width="12.64" height="5.14" fill="#acbd68"/>
<rect x="415.38" y="266.34" width="37.31" height="5.14" fill="#44b999"/>
<rect x="452.39" y="266.34" width="12.64" height="5.14" fill="#10a9c0"/>
<rect x="464.73" y="266.34" width="24.97" height="5.14" fill="#24b2ad"/>
<rect x="45.30" y="271.18" width="12.64" height="5.14" fill="#24b2ad"/>
<rect x="57.64" y="271.18" width="12.64" height="5.14" fill="#44b999"/>
<rect x="69.97" y="271.18" width="12.64" height="5.14" fill="#24b2ad"/>
<rect x="82.31" y="271.18" width="12.64" height="5.14" fill="#acbd68"/>
<rect x="94.64" y="271.18" width="12.64" height="5.14" fill="#24b2ad"/>
<rect x="106.98" y="271.18" width="12.64" height="5.14" fill="#44b999"/>
<rect x="119.32" y="271.18" width="12.64" height="5.14" fill="#e7c246"/>
<rect x="131.65" y="271.18" width="12.64" height="5.14" fill="#d1bb59"/>
<rect x="143.99" y="271.18" width="12.64" height="5.14" fill="#fec832"/>
<rect x="156.32" y="271.18" width="12.64" height="5.14" fill="#f9fb0e"/>
<rect x="168.66" y="271.18" width="12.64" height="5.14" fill="#e7c246"/>
<rect x="181.00" y="271.18" width="12.64" height="5.14" fill="#24b2ad"/>
<rect x="193.33" y="271.18" width="49.64" height="5.14" fill="#1284d5"/>
<rect x="242.68" y="271.18" width="12.64" height="5.14" fill="#116eda"/>
<rect x="255.01" y="271.18" width="12.64" height="5.14" fill="#0a99cd"/>
<rect x="267.35" y="271.18" width="12.64" height="5.14" fill="#10a9c0"/>
<rect x="279.69" y="271.18" width="37.31" height="5.14" fill="#0a99cd"/>
<rect x="316.69" y="271.18" width="12.64" height="5.14" fill="#1284d5"/>
<rect x="329.03" y="271.18" width="12.64" height="5.14" fill="#10a9c0"/>
<rect x="341.37" y="271.18" width="12.64" height="5.14" fill="#1284d5"/>
<rect x="353.70" y="271.18" width="12.64" height="5.14" fill="#44b999"/>
<rect x="366.04" y="271.18" width="12.64" height="5.14" fill="#24b2ad"/>
<rect x="378.38" y="271.18" width="12.64" height="5.14" fill="#6cbd84"/>
<rect x="390.71" y="271.18" width="24.97" height="5.14" fill="#acbd68"/>
<rect x="415.38" y="271.18" width="12.64" height="5.14" fill="#44b999"/>
<rect x="427.72" y="271.18" width="12.64" height="5.14" fill="#6cbd84"/>
<rect x="440.06" y="271.18" width="37.31" height="5.14" fill="#24b2ad"/>
<rect x="477.06" y="271.18" width="12.64" height="5.14" fill="#0a99cd"/>
<rect x="45.30" y="276.02" width="12.64" height="5.14" fill="#10a9c0"/>
<rect x="57.64" y="276.02" width="12.64" height="5.14" fill="#24b2ad"/>
<rect x="69.97" y="276.02" width="12.64" height="5.14" fill="#8fbf74"/>
<rect x="82.31" y="276.02" width="12.64" height="5.14" fill="#6cbd84"/>
<rect x="94.64" y="276.02" width="12.64" height="5.14" fill="#44b999"/>
<rect x="106.98" y="276.02" width="12.64" height="5.14" fill="#acbd68"/>
<rect x="119.32" y="276.02" width="12.64" height="5.14" fill="#d1bb59"/>
<rect x="131.65" y="276.02" width="12.64" height="5.14" fill="#e7c246"/>
<rect x="143.99" y="276.02" width="12.64" height="5.14" fill="#fbe220"/>
<rect x="156.32" y="276.02" width="12.64" height="5.14" fill="#f9fb0e"/>
<rect x="168.66" y="276.02" width="12.64" height="5.14" fill="#e7c246"/>
<rect x="181.00" y="276.02" width="12.64" height="5.14" fill="#10a9c0"/>
<rect x="193.33" y="276.02" width="24.97" height="5.14" fill="#1284d5"/>
<rect x="218.01" y="276.02" width="12.64" height="5.14" fill="#116eda"/>
<rect x="230.34" y="276.02" width="37.31" height="5.14" fill="#1284d5"/>
<rect x="267.35" y="276.02" width="12.64" height="5.14" fill="#10a9c0"/>
<rect x="279.69" y="276.02" width="12.64" height="5.14" fill="#1284d5"/>
<rect x="292.02" y="276.02" width="24.97" height="5.14" fill="#0a99cd"/>
<rect x="316.69" y="276.02" width="12.64" height="5.14" fill="#1284d5"/>
<rect x="329.03" y="276.02" width="12.64" height="5.14" fill="#10a9c0"/>
<rect x="341.37" y="276.02" width="12.64" height="5.14" fill="#0a99cd"/>
<rect x="353.70" y="276.02" width="24.97" height="5.14" fill="#24b2ad"/>
<rect x="378.38" y="276.02" width="12.64" height="5.14" fill="#44b999"/>
<rect x="390.71" y="276.02" width="12.64" height="5.14" fill="#6cbd84"/>
<rect x="403.05" y="276.02" width="12.64" height="5.14" fill="#acbd68"/>
<rect x="415.38" y="276.02" width="12.64" height="5.14" fill="#44b999"/>
<rect x="427.72" y="276.02" width="24.97" height="5.14" fill="#24b2ad"/>
<rect x="452.39" y="276.02" width="37.31" height="5.14" fill="#10a9c0"/>
<rect x="45.30" y="280.86" width="12.64" height="5.14" fill="#10a9c0"/>
<rect x="57.64" y="280.86" width="12.64" height="5.14" fill="#44b999"/>
<rect x="69.97" y="280.86" width="12.64" height="5.14" fill="#24b2ad"/>
<rect x="82.31" y="280.86" width="12.64" height="5.14" fill="#8fbf74"/>
<rect x="94.64" y="280.86" width="12.64" height="5.14" fill="#44b999"/>
<rect x="106.98" y="280.86" width="12.64" height="5.14" fill="#acbd68"/>
<rect x="119.32" y="280.86" width="24.97" height="5.14" fill="#e7c246"/>
<rect x="143.99" y="280.86" width="12.64" height="5.14" fill="#fbe220"/>
<rect x="156.32" y="280.86" width="12.64" height="5.14" fill="#f9fb0e"/>
<rect x="168.66" y="280.86" width="12.64" height="5.14" fill="#e7c246"/>
<rect x="181.00" y="280.86" width="12.64" height="5.14" fill="#0a99cd"/>
<rect x="193.33" y="280.86" width="12.64" height="5.14" fill="#116eda"/>
<rect x="205.67" y="280.86" width="24.97" height="5.14" fill="#1284d5"/>
<rect x="230.34" y="280.86" width="12.64" height="5.14" fill="#116eda"/>
<rect x="242.68" y="280.86" width="37.31" height="5.14" fill="#1284d5"/>
<rect x="279.69" y="280.86" width="12.64" height="5.14" fill="#0a99cd"/>
<rect x="292.02" y="280.86" width="12.64" height="5.14" fill="#1284d5"/>
<rect x="304.36" y="280.86" width="24.97" height="5.14" fill="#0a99cd"/>
<rect x="329.03" y="280.86" width="12.64" height="5.14" fill="#1284d5"/>
<rect x="341.37" y="280.86" width="12.64" height="5.14" fill="#0a99cd"/>
<rect x="353.70" y="280.86" width="37.31" height="5.14" fill="#24b2ad"/>
<rect x="390.71" y="280.86" width="12.64" height="5.14" fill="#6cbd84"/>
<rect x="403.05" y="280.86" width="12.64" height="5.14" fill="#acbd68"/>
<rect x="415.38" y="280.86" width="12.64" height="5.14" fill="#24b2ad"/>
<rect x="427.72" y="280.86" width="12.64" height="5.14" fill="#10a9c0"/>
<rect x="440.06" y="280.86" width="12.64" height="5.14" fill="#24b2ad"/>
<rect x="452.39" y="280.86" width="12.64" height="5.14" fill="#10a9c0"/>
<rect x="464.73" y="280.86" width="12.64" height="5.14" fill="#24b2ad"/>
<rect x="477.06" y="280.86" width="12.64" height="5.14" fill="#44b999"/>
<rect x="45.30" y="285.70" width="12.64" height="5.14" fill="#24b2ad"/>
<rect x="57.64" y="285.70" width="12.64" height="5.14" fill="#44b999"/>
<rect x="69.97" y="285.70" width="12.64" height="5.14" fill="#8fbf74"/>
<rect x="82.31" y="285.70" width="12.64" height="5.14" fill="#6cbd84"/>
<rect x="94.64" y="285.70" width="12.64" height="5.14" fill="#44b999"/>
<rect x="106.98" y="285.70" width="12.64" height="5.14" fill="#acbd68"/>
<rect x="119.32" y="285.70" width="12.64" height="5.14" fill="#fec832"/>
<rect x="131.65" y="285.70" width="12.64" height="5.14" fill="#fbe220"/>
<rect x="143.99" y="285.70" width="24.97" height="5.14" fill="#f9fb0e"/>
<rect x="168.66" y="285.70" width="12.64" height="5.14" fill="#e7c246"/>
<rect x="181.00" y="285.70" width="12.64" height="5.14" fill="#0a99cd"/>
<rect x="193.33" y="285.70" width="37.31" height="5.14" fill="#1284d5"/>
<rect x="230.34" y="285.70" width="12.64" height="5.14" fill="#116eda"/>
<rect x="242.68" y="285.70" width="61.98" height="5.14" fill="#1284d5"/>
<rect x="304.36" y="285.70" width="12.64" height="5.14" fill="#0a99cd"/>
<rect x="316.69" y="285.70" width="12.64" height="5.14" fill="#1284d5"/>
<rect x="329.03" y="285.70" width="24.97" height="5.14" fill="#0a99cd"/>
<rect x="353.70" y="285.70" width="49.64" height="5.14" fill="#24b2ad"/>
<rect x="403.05" y="285.70" width="12.64" height="5.14" fill="#8fbf74"/>
<rect x="415.38" y="285.70" width="12.64" height="5.14" fill="#44b999"/>
<rect x="427.72" y="285.70" width="12.64" height="5.14" fill="#10a9c0"/>
<rect x="440.06" y="285.70" width="24.97" height="5.14" fill="#24b2ad"/>
<rect x="464.73" y="285.70" width="24.97" height="5.14" fill="#44b999"/>
<rect x="45.30" y="290.54" width="12.64" height="5.14" fill="#10a9c0"/>
<rect x="57.64" y="290.54" width="12.64" height="5.14" fill="#44b999"/>
<rect x="69.97" y="290.54" width="24.97" height="5.14" fill="#8fbf74"/>
<rect x="94.64" y="290.54" width="12.64" height="5.14" fill="#44b999"/>
<rect x="106.98" y="290.54" width="12.64" height="5.14" fill="#d1bb59"/>
<rect x="119.32" y="290.54" width="12.64" height="5.14" fill="#fbe220"/>
<rect x="131.65" y="290.54" width="37.31" height="5.14" fill="#f9fb0e"/>
<rect x="168.66" y="290.54" width="12.64" height="5.14" fill="#e7c246"/>
<rect x="181.00" y="290.54" width="12.64" height="5.14" fill="#0a99cd"/>
<rect x="193.33" y="290.54" width="12.64" height="5.14" fill="#1284d5"/>
<rect x="205.67" y="290.54" width="12.64" height="5.14" fill="#0a99cd"/>
<rect x="218.01" y="290.54" width="12.64" height="5.14" fill="#1284d5"/>
<rect x="230.34" y="290.54" width="12.64" height="5.14" fill="#116eda"/>
<rect x="242.68" y="290.54" width="24.97" height="5.14" fill="#1284d5"/>
<rect x="267.35" y="290.54" width="12.64" height="5.14" fill="#116eda"/>
<rect x="279.69" y="290.54" width="12.64" height="5.14" fill="#0a99cd"/>
<rect x="292.02" y="290.54" width="12.64" height="5.14" fill="#116eda"/>
<rect x="304.36" y="290.54" width="12.64" height="5.14" fill="#1284d5"/>
<rect x="316.69" y="290.54" width="37.31" height="5.14" fill="#0a99cd"/>
<rect x="353.70" y="290.54" width="12.64" height="5.14" fill="#24b2ad"/>
<rect x="366.04" y="290.54" width="12.64" height="5.14" fill="#8fbf74"/>
<rect x="378.38" y="290.54" width="12.64" height="5.14" fill="#24b2ad"/>
<rect x="390.71" y="290.54" width="12.64" height="5.14" fill="#10a9c0"/>
<rect x="403.05" y="290.54" width="12.64" height="5.14" fill="#8fbf74"/>
<rect x="415.38" y="290.54" width="12.64" height="5.14" fill="#acbd68"/>
<rect x="427.72" y="290.54" width="37.31" height="5.14" fill="#24b2ad"/>
<rect x="464.73" y="290.54" width="24.97" height="5.14" fill="#44b999"/>
<rect x="45.30" y="295.38" width="12.64" height="5.14" fill="#10a9c0"/>
<rect x="57.64" y="295.38" width="24.97" height="5.14" fill="#6cbd84"/>
<rect x="82.31" y="295.38" width="12.64" height="5.14" fill="#10a9c0"/>
<rect x="94.64" y="295.38" width="12.64" height="5.14" fill="#acbd68"/>
<rect x="106.98" y="295.38" width="12.64" height="5.14" fill="#f9fb0e"/>
<rect x="119.32" y="295.38" width="12.64" height="5.14" fill="#fbe220"/>
<rect x="131.65" y="295.38" width="37.31" height="5.14" fill="#f9fb0e"/>
<rect x="168.66" y="295.38" width="12.64" height="5.14" fill="#e7c246"/>
<rect x="181.00" y="295.38" width="12.64" height="5.14" fill="#0a99cd"/>
<rect x="193.33" y="295.38" width="12.64" height="5.14" fill="#1284d5"/>
<rect x="205.67" y="295.38" width="12.64" height="5.14" fill="#0a99cd"/>
<rect x="218.01" y="295.38" width="24.97" height="5.14" fill="#116eda"/>
<rect x="242.68" y="295.38" width="12.64" height="5.14" fill="#1284d5"/>
<rect x="255.01" y="295.38" width="12.64" height="5.14" fill="#116eda"/>
<rect x="267.35" y="295.38" width="12.64" height="5.14" fill="#1284d5"/>
<rect x="279.69" y="295.38" width="12.64" height="5.14" fill="#0a99cd"/>
<rect x="292.02" y="295.38" width="12.64" height="5.14" fill="#1284d5"/>
<rect x="304.36" y="295.38" width="12.64" height="5.14" fill="#0a99cd"/>
<rect x="316.69" y="295.38" width="12.64" height="5.14" fill="#116eda"/>
<rect x="329.03" y="295.38" width="37.31" height="5.14" fill="#10a9c0"/>
<rect x="366.04" y="295.38" width="12.64" height="5.14" fill="#8fbf74"/>
<rect x="378.38" y="295.38" width="12.64" height="5.14" fill="#24b2ad"/>
<rect x="390.71" y="295.38" width="12.64" height="5.14" fill="#0a99cd"/>
<rect x="403.05" y="295.38" width="12.64" height="5.14" fill="#24b2ad"/>
<rect x="415.38" y="295.38" width="12.64" height="5.14" fill="#acbd68"/>
<rect x="427.72" y="295.38" width="24.97" height="5.14" fill="#24b2ad"/>
<rect x="452.39" y="295.38" width="12.64" height="5.14" fill="#6cbd84"/>
<rect x="464.73" y="295.38" width="12.64" height="5.14" fill="#44b999"/>
<rect x="477.06" y="295.38" width="12.64" height="5.14" fill="#6cbd84"/>
<rect x="45.30" y="300.22" width="24.97" height="5.14" fill="#8fbf74"/>
<rect x="69.97" y="300.22" width="12.64" height="5.14" fill="#6cbd84"/>
<rect x="82.31" y="300.22" width="12.64" height="5.14" fill="#10a9c0"/>
<rect x="94.64" y="300.22" width="12.64" height="5.14" fill="#e7c246"/>
<rect x="106.98" y="300.22" width="12.64" height="5.14" fill="#f9fb0e"/>
<rect x="119.32" y="300.22" width="12.64" height="5.14" fill="#fbe220"/>
<rect x="131.65" y="300.22" width="37.31" height="5.14" fill="#f9fb0e"/>
<rect x="168.66" y="300.22" width="12.64" height="5.14" fill="#e7c246"/>
<rect x="181.00" y="300.22" width="37.31" height="5.14" fill="#0a99cd"/>
<rect x="218.01" y="300.22" width="12.64" height="5.14" fill="#1284d5"/>
<rect x="230.34" y="300.22" width="12.64" height="5.14" fill="#116eda"/>
<rect x="242.68" y="300.22" width="37.31" height="5.14" fill="#1284d5"/>
<rect x="279.69" y="300.22" width="12.64" height="5.14" fill="#0a99cd"/>
<rect x="292.02" y="300.22" width="12.64" height="5.14" fill="#1063dc"/>
<rect x="304.36" y="300.22" width="12.64" height="5.14" fill="#0a99cd"/>
<rect x="316.69" y="300.22" width="12.64" height="5.14" fill="#1063dc"/>
<rect x="329.03" y="300.22" width="12.64" height="5.14" fill="#24b2ad"/>
<rect x="341.37" y="300.22" width="24.97" height="5.14" fill="#10a9c0"/>
<rect x="366.04" y="300.22" width="12.64" height="5.14" fill="#44b999"/>
<rect x="378.38" y="300.22" width="12.64" height="5.14" fill="#24b2ad"/>
<rect x="390.71" y="300.22" width="12.64" height="5.14" fill="#0a99cd"/>
<rect x="403.05" y="300.22" width="12.64" height="5.14" fill="#24b2ad"/>
<rect x="415.38" y="300.22" width="12.64" height="5.14" fill="#8fbf74"/>
<rect x="427.72" y="300.22" width="24.97" height="5.14" fill="#24b2ad"/>
<rect x="452.39" y="300.22" width="24.97" height="5.14" fill="#44b999"/>
<rect x="477.06" y="300.22" width="12.64" height="5.14" fill="#6cbd84"/>
<rect x="45.30" y="305.06" width="12.64" height="5.14" fill="#8fbf74"/>
<rect x="57.64" y="305.06" width="12.64" height="5.14" fill="#acbd68"/>
<rect x="69.97" y="305.06" width="12.64" height="5.14" fill="#8fbf74"/>
<rect x="82.31" y="305.06" width="12.64" height="5.14" fill="#24b2ad"/>
<rect x="94.64" y="305.06" width="12.64" height="5.14" fill="#e7c246"/>
<rect x="106.98" y="305.06" width="12.64" height="5.14" fill="#f9fb0e"/>
<rect x="119.32" y="305.06" width="12.64" height="5.14" fill="#fbe220"/>
<rect x="131.65" y="305.06" width="37.31" height="5.14" fill="#f9fb0e"/>
<rect x="168.66" y="305.06" width="12.64" height="5.14" fill="#fec832"/>
<rect x="181.00" y="305.06" width="37.31" height="5.14" fill="#0a99cd"/>
<rect x="218.01" y="305.06" width="37.31" height="5.14" fill="#1284d5"/>
<rect x="255.01" y="305.06" width="12.64" height="5.14" fill="#0a99cd"/>
<rect x="267.35" y="305.06" width="12.64" height="5.14" fill="#1284d5"/>
<rect x="279.69" y="305.06" width="12.64" height="5.14" fill="#116eda"/>
<rect x="292.02" y="305.06" width="37.31" height="5.14" fill="#1284d5"/>
<rect x="329.03" y="305.06" width="12.64" height="5.14" fill="#10a9c0"/>
<rect x="341.37" y="305.06" width="12.64" height="5.14" fill="#0a99cd"/>
<rect x="353.70" y="305.06" width="12.64" height="5.14" fill="#24b2ad"/>
<rect x="366.04" y="305.06" width="12.64" height="5.14" fill="#44b999"/>
<rect x="378.38" y="305.06" width="12.64" height="5.14" fill="#24b2ad"/>
<rect x="390.71" y="305.06" width="12.64" height="5.14" fill="#0a99cd"/>
<rect x="403.05" y="305.06" width="12.64" height="5.14" fill="#24b2ad"/>
<rect x="415.38" y="305.06" width="12.64" height="5.14" fill="#10a9c0"/>
<rect x="427.72" y="305.06" width="24.97" height="5.14" fill="#24b2ad"/>
<rect x="452.39" y="305.06" width="12.64" height="5.14" fill="#6cbd84"/>
<rect x="464.73" y="305.06" width="12.64" height="5.14" fill="#8fbf74"/>
<rect x="477.06" y="305.06" width="12.64" height="5.14" fill="#6cbd84"/>
<rect x="45.30" y="309.90" width="12.64" height="5.14" fill="#acbd68"/>
<rect x="57.64" y="309.90" width="12.64" height="5.14" fill="#8fbf74"/>
<rect x="69.97" y="309.90" width="12.64" height="5.14" fill="#44b999"/>
<rect x="82.31" y="309.90" width="12.64" height="5.14" fill="#6cbd84"/>
<rect x="94.64" y="309.90" width="12.64" height="5.14" fill="#e7c246"/>
<rect x="106.98" y="309.90" width="24.97" height="5.14" fill="#f9fb0e"/>
<rect x="131.65" y="309.90" width="12.64" height="5.14" fill="#fbe220"/>
<rect x="143.99" y="309.90" width="24.97" height="5.14" fill="#f9fb0e"/>
<rect x="168.66" y="309.90" width="12.64" height="5.14" fill="#fec832"/>
<rect x="181.00" y="309.90" width="37.31" height="5.14" fill="#0a99cd"/>
<rect x="218.01" y="309.90" width="37.31" height="5.14" fill="#1284d5"/>
<rect x="255.01" y="309.90" width="12.64" height="5.14" fill="#0a99cd"/>
<rect x="267.35" y="309.90" width="12.64" height="5.14" fill="#1284d5"/>
<rect x="279.69" y="309.90" width="24.97" height="5.14" fill="#116eda"/>
<rect x="304.36" y="309.90" width="24.97" height="5.14" fill="#1284d5"/>
<rect x="329.03" y="309.90" width="37.31" height="5.14" fill="#10a9c0"/>
<rect x="366.04" y="309.90" width="12.64" height="5.14" fill="#44b999"/>
<rect x="378.38" y="309.90" width="12.64" height="5.14" fill="#24b2ad"/>
<rect x="390.71" y="309.90" width="37.31" height="5.14" fill="#10a9c0"/>
<rect x="427.72" y="309.90" width="12.64" height="5.14" fill="#6cbd84"/>
<rect x="440.06" y="309.90" width="12.64" height="5.14" fill="#44b999"/>
<rect x="452.39" y="309.90" width="12.64" height="5.14" fill="#e7c246"/>
<rect x="464.73" y="309.90" width="24.97" height="5.14" fill="#6cbd84"/>
<rect x="45.30" y="314.74" width="12.64" height="5.14" fill="#116eda"/>
<rect x="57.64" y="314.74" width="12.64" height="5.14" fill="#6cbd84"/>
<rect x="69.97" y="314.74" width="24.97" height="5.14" fill="#acbd68"/>
<rect x="94.64" y="314.74" width="12.64" height="5.14" fill="#fbe220"/>
<rect x="106.98" y="314.74" width="61.98" height="5.14" fill="#f9fb0e"/>
<rect x="168.66" y="314.74" width="12.64" height="5.14" fill="#e7c246"/>
<rect x="181.00" y="314.74" width="12.64" height="5.14" fill="#10a9c0"/>
<rect x="193.33" y="314.74" width="24.97" height="5.14" fill="#0a99cd"/>
<rect x="218.01" y="314.74" width="12.64" height="5.14" fill="#1284d5"/>
<rect x="230.34" y="314.74" width="12.64" height="5.14" fill="#116eda"/>
<rect x="242.68" y="314.74" width="24.97" height="5.14" fill="#1284d5"/>
<rect x="267.35" y="314.74" width="12.64" height="5.14" fill="#0a99cd"/>
<rect x="279.69" y="314.74" width="12.64" height="5.14" fill="#1284d5"/>
<rect x="292.02" y="314.74" width="12.64" height="5.14" fill="#116eda"/>
<rect x="304.36" y="314.74" width="12.64" height="5.14" fill="#1284d5"/>
<rect x="316.69" y="314.74" width="12.64" height="5.14" fill="#0a99cd"/>
<rect x="329.03" y="314.74" width="12.64" height="5.14" fill="#1284d5"/>
<rect x="341.37" y="314.74" width="12.64" height="5.14" fill="#6cbd84"/>
<rect x="353.70" y="314.74" width="12.64" height="5.14" fill="#0a99cd"/>
<rect x="366.04" y="314.74" width="12.64" height="5.14" fill="#d1bb59"/>
<rect x="378.38" y="314.74" width="12.64" height="5.14" fill="#24b2ad"/>
<rect x="390.71" y="314.74" width="12.64" height="5.14" fill="#10a9c0"/>
<rect x="403.05" y="314.74" width="12.64" height="5.14" fill="#0a99cd"/>
<rect x="415.38" y="314.74" width="12.64" height="5.14" fill="#10a9c0"/>
<rect x="427.72" y="314.74" width="12.64" height="5.14" fill="#44b999"/>
<rect x="440.06" y="314.74" width="12.64" height="5.14" fill="#6cbd84"/>
<rect x="452.39" y="314.74" width="12.64" height="5.14" fill="#e7c246"/>
<rect x="464.73" y="314.74" width="12.64" height="5.14" fill="#6cbd84"/>
<rect x="477.06" y="314.74" width="12.64" height="5.14" fill="#acbd68"/>
<rect x="45.30" y="319.58" width="12.64" height="5.14" fill="#8fbf74"/>
<rect x="57.64" y="319.58" width="12.64" height="5.14" fill="#fec832"/>
<rect x="69.97" y="319.58" width="12.64" height="5.14" fill="#acbd68"/>
<rect x="82.31" y="319.58" width="12.64" height="5.14" fill="#d1bb59"/>
<rect x="94.64" y="319.58" width="12.64" height="5.14" fill="#fbe220"/>
<rect x="106.98" y="319.58" width="61.98" height="5.14" fill="#f9fb0e"/>
<rect x="168.66" y="319.58" width="12.64" height="5.14" fill="#fec832"/>
<rect x="181.00" y="319.58" width="12.64" height="5.14" fill="#24b2ad"/>
<rect x="193.33" y="319.58" width="24.97" height="5.14" fill="#0a99cd"/>
<rect x="218.01" y="319.58" width="49.64" height="5.14" fill="#1284d5"/>
<rect x="267.35" y="319.58" width="12.64" height="5.14" fill="#10a9c0"/>
<rect x="279.69" y="319.58" width="12.64" height="5.14" fill="#1284d5"/>
<rect x="292.02" y="319.58" width="12.64" height="5.14" fill="#263ea9"/>
<rect x="304.36" y="319.58" width="12.64" height="5.14" fill="#24b2ad"/>
<rect x="316.69" y="319.58" width="12.64" height="5.14" fill="#0a99cd"/>
<rect x="329.03" y="319.58" width="24.97" height="5.14" fill="#10a9c0"/>
<rect x="353.70" y="319.58" width="12.64" height="5.14" fill="#0a99cd"/>
<rect x="366.04" y="319.58" width="24.97" height="5.14" fill="#44b999"/>
<rect x="390.71" y="319.58" width="24.97" height="5.14" fill="#10a9c0"/>
<rect x="415.38" y="319.58" width="24.97" height="5.14" fill="#24b2ad"/>
<rect x="440.06" y="319.58" width="12.64" height="5.14" fill="#6cbd84"/>
<rect x="452.39" y="319.58" width="12.64" height="5.14" fill="#8fbf74"/>
<rect x="464.73" y="319.58" width="24.97" height="5.14" fill="#6cbd84"/>
<rect x="45.30" y="324.42" width="12.64" height="5.14" fill="#acbd68"/>
<rect x="57.64" y="324.42" width="12.64" height="5.14" fill="#8fbf74"/>
<rect x="69.97" y="324.42" width="12.64" height="5.14" fill="#d1bb59"/>
<rect x="82.31" y="324.42" width="49.64" height="5.14" fill="#f9fb0e"/>
<rect x="131.65" y="324.42" width="12.64" height="5.14" fill="#fec832"/>
<rect x="143.99" y="324.42" width="12.64" height="5.14" fill="#f9fb0e"/>
<rect x="156.32" y="324.42" width="12.64" height="5.14" fill="#fbe220"/>
<rect x="168.66" y="324.42" width="12.64" height="5.14" fill="#fec832"/>
<rect x="181.00" y="324.42" width="12.64" height="5.14" fill="#24b2ad"/>
<rect x="193.33" y="324.42" width="49.64" height="5.14" fill="#1284d5"/>
<rect x="242.68" y="324.42" width="12.64" height="5.14" fill="#116eda"/>
<rect x="255.01" y="324.42" width="12.64" height="5.14" fill="#1284d5"/>
<rect x="267.35" y="324.42" width="24.97" height="5.14" fill="#0a99cd"/>
<rect x="292.02" y="324.42" width="12.64" height="5.14" fill="#116eda"/>
<rect x="304.36" y="324.42" width="12.64" height="5.14" fill="#1284d5"/>
<rect x="316.69" y="324.42" width="12.64" height="5.14" fill="#0a99cd"/>
<rect x="329.03" y="324.42" width="12.64" height="5.14" fill="#1284d5"/>
<rect x="341.37" y="324.42" width="12.64" height="5.14" fill="#0a99cd"/>
<rect x="353.70" y="324.42" width="12.64" height="5.14" fill="#24b2ad"/>
<rect x="366.04" y="324.42" width="12.64" height="5.14" fill="#44b999"/>
<rect x="378.38" y="324.42" width="12.64" height="5.14" fill="#10a9c0"/>
<rect x="390.71" y="324.42" width="12.64" height="5.14" fill="#6cbd84"/>
<rect x="403.05" y="324.42" width="12.64" height="5.14" fill="#8fbf74"/>
<rect x="415.38" y="324.42" width="12.64" height="5.14" fill="#24b2ad"/>
<rect x="427.72" y="324.42" width="12.64" height="5.14" fill="#6cbd84"/>
<rect x="440.06" y="324.42" width="24.97" height="5.14" fill="#8fbf74"/>
<rect x="464.73" y="324.42" width="12.64" height="5.14" fill="#e7c246"/>
<rect x="477.06" y="324.42" width="12.64" height="5.14" fill="#d1bb59"/>
<rect x="45.30" y="329.26" width="12.64" height="5.14" fill="#acbd68"/>
<rect x="57.64" y="329.26" width="12.64" height="5.14" fill="#fbe220"/>
<rect x="69.97" y="329.26" width="12.64" height="5.14" fill="#d1bb59"/>
<rect x="82.31" y="329.26" width="86.65" height="5.14" fill="#f9fb0e"/>
<rect x="168.66" y="329.26" width="12.64" height="5.14" fill="#8fbf74"/>
<rect x="181.00" y="329.26" width="37.31" height="5.14" fill="#1284d5"/>
<rect x="218.01" y="329.26" width="12.64" height="5.14" fill="#1063dc"/>
<rect x="230.34" y="329.26" width="12.64" height="5.14" fill="#0a99cd"/>
<rect x="242.68" y="329.26" width="49.64" height="5.14" fill="#1284d5"/>
<rect x="292.02" y="329.26" width="12.64" height="5.14" fill="#116eda"/>
<rect x="304.36" y="329.26" width="24.97" height="5.14" fill="#1284d5"/>
<rect x="329.03" y="329.26" width="24.97" height="5.14" fill="#24b2ad"/>
<rect x="353.70" y="329.26" width="12.64" height="5.14" fill="#1284d5"/>
<rect x="366.04" y="329.26" width="12.64" height="5.14" fill="#24b2ad"/>
<rect x="378.38" y="329.26" width="12.64" height="5.14" fill="#0a99cd"/>
<rect x="390.71" y="329.26" width="12.64" height="5.14" fill="#24b2ad"/>
<rect x="403.05" y="329.26" width="12.64" height="5.14" fill="#1284d5"/>
<rect x="415.38" y="329.26" width="12.64" height="5.14" fill="#116eda"/>
<rect x="427.72" y="329.26" width="12.64" height="5.14" fill="#0a99cd"/>
<rect x="440.06" y="329.26" width="24.97" height="5.14" fill="#acbd68"/>
<rect x="464.73" y="329.26" width="24.97" height="5.14" fill="#e7c246"/>
<rect x="492.20" y="188.90" width="8.60" height="7.56" fill="#f9fb0e"/>
<rect x="492.20" y="196.16" width="8.60" height="7.56" fill="#fbe61c"/>
<rect x="492.20" y="203.42" width="8.60" height="7.56" fill="#fdd22b"/>
<rect x="492.20" y="210.68" width="8.60" height="7.56" fill="#f5c63a"/>
<rect x="492.20" y="217.94" width="8.60" height="7.56" fill="#e3c04a"/>
<rect x="492.20" y="225.20" width="8.60" height="7.56" fill="#d0bb59"/>
<rect x="492.20" y="232.46" width="8.60" height="7.56" fill="#b3bd65"/>
<rect x="492.20" y="239.72" width="8.60" height="7.56" fill="#96be71"/>
<rect x="492.20" y="246.98" width="8.60" height="7.56" fill="#75bd80"/>
<rect x="492.20" y="254.24" width="8.60" height="7.56" fill="#51ba92"/>
<rect x="492.20" y="261.50" width="8.60" height="7.56" fill="#2eb7a4"/>
<rect x="492.20" y="268.76" width="8.60" height="7.56" fill="#1eafb3"/>
<rect x="492.20" y="276.02" width="8.60" height="7.56" fill="#0ea7c2"/>
<rect x="492.20" y="283.28" width="8.60" height="7.56" fill="#099dcc"/>
<rect x="492.20" y="290.54" width="8.60" height="7.56" fill="#0e8ed1"/>
<rect x="492.20" y="297.80" width="8.60" height="7.56" fill="#1480d6"/>
<rect x="492.20" y="305.06" width="8.60" height="7.56" fill="#1272d9"/>
<rect x="492.20" y="312.32" width="8.60" height="7.56" fill="#1063dc"/>
<rect x="492.20" y="319.58" width="8.60" height="7.56" fill="#1752cc"/>
<rect x="492.20" y="326.84" width="8.60" height="7.56" fill="#263ea9"/>
</g>
<g filter="url(#bl)">
<rect x="43.20" y="10.00" width="444.70" height="139.40" fill="none" stroke="#000" stroke-width="0.45"/>
<path d="M43.20 10.00V149.40H487.90" fill="none" stroke="#000" stroke-width="0.9"/>
<line x1="43.20" y1="149.40" x2="55.20" y2="149.40" stroke="#000" stroke-width="0.6"/>
<text x="40.90" y="152.80" text-anchor="end" class="t">30</text>
<line x1="43.20" y1="144.75" x2="49.20" y2="144.75" stroke="#000" stroke-width="0.6"/>
<line x1="43.20" y1="140.11" x2="49.20" y2="140.11" stroke="#000" stroke-width="0.6"/>
<line x1="43.20" y1="135.46" x2="49.20" y2="135.46" stroke="#000" stroke-width="0.6"/>
<line x1="43.20" y1="130.81" x2="49.20" y2="130.81" stroke="#000" stroke-width="0.6"/>
<line x1="43.20" y1="126.17" x2="55.20" y2="126.17" stroke="#000" stroke-width="0.6"/>
<text x="40.90" y="129.57" text-anchor="end" class="t">40</text>
<line x1="43.20" y1="121.52" x2="49.20" y2="121.52" stroke="#000" stroke-width="0.6"/>
<line x1="43.20" y1="116.87" x2="49.20" y2="116.87" stroke="#000" stroke-width="0.6"/>
<line x1="43.20" y1="112.23" x2="49.20" y2="112.23" stroke="#000" stroke-width="0.6"/>
<line x1="43.20" y1="107.58" x2="49.20" y2="107.58" stroke="#000" stroke-width="0.6"/>
<line x1="43.20" y1="102.93" x2="55.20" y2="102.93" stroke="#000" stroke-width="0.6"/>
<text x="40.90" y="106.33" text-anchor="end" class="t">50</text>
<line x1="43.20" y1="98.29" x2="49.20" y2="98.29" stroke="#000" stroke-width="0.6"/>
<line x1="43.20" y1="93.64" x2="49.20" y2="93.64" stroke="#000" stroke-width="0.6"/>
<line x1="43.20" y1="88.99" x2="49.20" y2="88.99" stroke="#000" stroke-width="0.6"/>
<line x1="43.20" y1="84.35" x2="49.20" y2="84.35" stroke="#000" stroke-width="0.6"/>
<line x1="43.20" y1="79.70" x2="55.20" y2="79.70" stroke="#000" stroke-width="0.6"/>
<text x="40.90" y="83.10" text-anchor="end" class="t">60</text>
<line x1="43.20" y1="75.05" x2="49.20" y2="75.05" stroke="#000" stroke-width="0.6"/>
<line x1="43.20" y1="70.41" x2="49.20" y2="70.41" stroke="#000" stroke-width="0.6"/>
<line x1="43.20" y1="65.76" x2="49.20" y2="65.76" stroke="#000" stroke-width="0.6"/>
<line x1="43.20" y1="61.11" x2="49.20" y2="61.11" stroke="#000" stroke-width="0.6"/>
<line x1="43.20" y1="56.47" x2="55.20" y2="56.47" stroke="#000" stroke-width="0.6"/>
<text x="40.90" y="59.87" text-anchor="end" class="t">70</text>
<line x1="43.20" y1="51.82" x2="49.20" y2="51.82" stroke="#000" stroke-width="0.6"/>
<line x1="43.20" y1="47.17" x2="49.20" y2="47.17" stroke="#000" stroke-width="0.6"/>
<line x1="43.20" y1="42.53" x2="49.20" y2="42.53" stroke="#000" stroke-width="0.6"/>
<line x1="43.20" y1="37.88" x2="49.20" y2="37.88" stroke="#000" stroke-width="0.6"/>
<line x1="43.20" y1="33.23" x2="55.20" y2="33.23" stroke="#000" stroke-width="0.6"/>
<text x="40.90" y="36.63" text-anchor="end" class="t">80</text>
<line x1="43.20" y1="28.59" x2="49.20" y2="28.59" stroke="#000" stroke-width="0.6"/>
<line x1="43.20" y1="23.94" x2="49.20" y2="23.94" stroke="#000" stroke-width="0.6"/>
<line x1="43.20" y1="19.29" x2="49.20" y2="19.29" stroke="#000" stroke-width="0.6"/>
<line x1="43.20" y1="14.65" x2="49.20" y2="14.65" stroke="#000" stroke-width="0.6"/>
<line x1="43.20" y1="10.00" x2="55.20" y2="10.00" stroke="#000" stroke-width="0.6"/>
<text x="40.90" y="13.40" text-anchor="end" class="t">90</text>
<line x1="43.20" y1="149.40" x2="43.20" y2="145.20" stroke="#000" stroke-width="0.6"/>
<text x="43.60" y="158.00" text-anchor="middle" class="t">0</text>
<line x1="56.55" y1="149.40" x2="56.55" y2="147.30" stroke="#000" stroke-width="0.6"/>
<line x1="69.90" y1="149.40" x2="69.90" y2="147.30" stroke="#000" stroke-width="0.6"/>
<line x1="83.25" y1="149.40" x2="83.25" y2="147.30" stroke="#000" stroke-width="0.6"/>
<line x1="96.60" y1="149.40" x2="96.60" y2="147.30" stroke="#000" stroke-width="0.6"/>
<line x1="109.96" y1="149.40" x2="109.96" y2="145.20" stroke="#000" stroke-width="0.6"/>
<text x="110.36" y="158.00" text-anchor="middle" class="t">50</text>
<line x1="123.31" y1="149.40" x2="123.31" y2="147.30" stroke="#000" stroke-width="0.6"/>
<line x1="136.66" y1="149.40" x2="136.66" y2="147.30" stroke="#000" stroke-width="0.6"/>
<line x1="150.01" y1="149.40" x2="150.01" y2="147.30" stroke="#000" stroke-width="0.6"/>
<line x1="163.36" y1="149.40" x2="163.36" y2="147.30" stroke="#000" stroke-width="0.6"/>
<line x1="176.71" y1="149.40" x2="176.71" y2="145.20" stroke="#000" stroke-width="0.6"/>
<text x="177.11" y="158.00" text-anchor="middle" class="t">100</text>
<line x1="190.06" y1="149.40" x2="190.06" y2="147.30" stroke="#000" stroke-width="0.6"/>
<line x1="203.41" y1="149.40" x2="203.41" y2="147.30" stroke="#000" stroke-width="0.6"/>
<line x1="216.76" y1="149.40" x2="216.76" y2="147.30" stroke="#000" stroke-width="0.6"/>
<line x1="230.12" y1="149.40" x2="230.12" y2="147.30" stroke="#000" stroke-width="0.6"/>
<line x1="243.47" y1="149.40" x2="243.47" y2="145.20" stroke="#000" stroke-width="0.6"/>
<text x="243.87" y="158.00" text-anchor="middle" class="t">150</text>
<line x1="256.82" y1="149.40" x2="256.82" y2="147.30" stroke="#000" stroke-width="0.6"/>
<line x1="270.17" y1="149.40" x2="270.17" y2="147.30" stroke="#000" stroke-width="0.6"/>
<line x1="283.52" y1="149.40" x2="283.52" y2="147.30" stroke="#000" stroke-width="0.6"/>
<line x1="296.87" y1="149.40" x2="296.87" y2="147.30" stroke="#000" stroke-width="0.6"/>
<line x1="310.22" y1="149.40" x2="310.22" y2="145.20" stroke="#000" stroke-width="0.6"/>
<text x="310.62" y="158.00" text-anchor="middle" class="t">200</text>
<line x1="323.57" y1="149.40" x2="323.57" y2="147.30" stroke="#000" stroke-width="0.6"/>
<line x1="336.92" y1="149.40" x2="336.92" y2="147.30" stroke="#000" stroke-width="0.6"/>
<line x1="350.28" y1="149.40" x2="350.28" y2="147.30" stroke="#000" stroke-width="0.6"/>
<line x1="363.63" y1="149.40" x2="363.63" y2="147.30" stroke="#000" stroke-width="0.6"/>
<line x1="376.98" y1="149.40" x2="376.98" y2="145.20" stroke="#000" stroke-width="0.6"/>
<text x="377.38" y="158.00" text-anchor="middle" class="t">250</text>
<line x1="390.33" y1="149.40" x2="390.33" y2="147.30" stroke="#000" stroke-width="0.6"/>
<line x1="403.68" y1="149.40" x2="403.68" y2="147.30" stroke="#000" stroke-width="0.6"/>
<line x1="417.03" y1="149.40" x2="417.03" y2="147.30" stroke="#000" stroke-width="0.6"/>
<line x1="430.38" y1="149.40" x2="430.38" y2="147.30" stroke="#000" stroke-width="0.6"/>
<line x1="443.73" y1="149.40" x2="443.73" y2="145.20" stroke="#000" stroke-width="0.6"/>
<text x="444.13" y="158.00" text-anchor="middle" class="t">300</text>
<line x1="457.08" y1="149.40" x2="457.08" y2="147.30" stroke="#000" stroke-width="0.6"/>
<line x1="470.44" y1="149.40" x2="470.44" y2="147.30" stroke="#000" stroke-width="0.6"/>
<line x1="483.79" y1="149.40" x2="483.79" y2="147.30" stroke="#000" stroke-width="0.6"/>
<line x1="487.90" y1="15.30" x2="501.80" y2="15.30" stroke="#000" stroke-width="0.5"/>
<text x="504.70" y="18.10" class="z">2</text>
<line x1="487.90" y1="39.40" x2="501.80" y2="39.40" stroke="#000" stroke-width="0.5"/>
<text x="504.70" y="42.20" class="z">1.8</text>
<line x1="487.90" y1="63.49" x2="501.80" y2="63.49" stroke="#000" stroke-width="0.5"/>
<text x="504.70" y="66.29" class="z">1.6</text>
<line x1="487.90" y1="87.59" x2="501.80" y2="87.59" stroke="#000" stroke-width="0.5"/>
<text x="504.70" y="90.39" class="z">1.4</text>
<line x1="487.90" y1="111.69" x2="501.80" y2="111.69" stroke="#000" stroke-width="0.5"/>
<text x="504.70" y="114.49" class="z">1.2</text>
<line x1="487.90" y1="135.79" x2="501.80" y2="135.79" stroke="#000" stroke-width="0.5"/>
<text x="504.70" y="138.59" class="z">1</text>
<text transform="translate(18.20 10.00) rotate(-90) scale(1 1.18)" text-anchor="end" class="s">Elevation [deg]</text>
<text transform="translate(535.50 10.00) rotate(-90) scale(1 1.18)" text-anchor="end" class="s">Relative Transmission</text>
<text transform="translate(488.30 165.00) scale(1.06 1)" text-anchor="end" class="s">ϕ [deg]</text>
<rect x="45.30" y="188.90" width="444.10" height="145.20" fill="none" stroke="#000" stroke-width="0.45"/>
<path d="M45.30 188.90V334.10H489.40" fill="none" stroke="#000" stroke-width="0.9"/>
<line x1="45.30" y1="334.10" x2="57.30" y2="334.10" stroke="#000" stroke-width="0.6"/>
<text x="41.90" y="337.50" text-anchor="end" class="t">30</text>
<line x1="45.30" y1="329.26" x2="51.30" y2="329.26" stroke="#000" stroke-width="0.6"/>
<line x1="45.30" y1="324.42" x2="51.30" y2="324.42" stroke="#000" stroke-width="0.6"/>
<line x1="45.30" y1="319.58" x2="51.30" y2="319.58" stroke="#000" stroke-width="0.6"/>
<line x1="45.30" y1="314.74" x2="51.30" y2="314.74" stroke="#000" stroke-width="0.6"/>
<line x1="45.30" y1="309.90" x2="57.30" y2="309.90" stroke="#000" stroke-width="0.6"/>
<text x="41.90" y="313.30" text-anchor="end" class="t">40</text>
<line x1="45.30" y1="305.06" x2="51.30" y2="305.06" stroke="#000" stroke-width="0.6"/>
<line x1="45.30" y1="300.22" x2="51.30" y2="300.22" stroke="#000" stroke-width="0.6"/>
<line x1="45.30" y1="295.38" x2="51.30" y2="295.38" stroke="#000" stroke-width="0.6"/>
<line x1="45.30" y1="290.54" x2="51.30" y2="290.54" stroke="#000" stroke-width="0.6"/>
<line x1="45.30" y1="285.70" x2="57.30" y2="285.70" stroke="#000" stroke-width="0.6"/>
<text x="41.90" y="289.10" text-anchor="end" class="t">50</text>
<line x1="45.30" y1="280.86" x2="51.30" y2="280.86" stroke="#000" stroke-width="0.6"/>
<line x1="45.30" y1="276.02" x2="51.30" y2="276.02" stroke="#000" stroke-width="0.6"/>
<line x1="45.30" y1="271.18" x2="51.30" y2="271.18" stroke="#000" stroke-width="0.6"/>
<line x1="45.30" y1="266.34" x2="51.30" y2="266.34" stroke="#000" stroke-width="0.6"/>
<line x1="45.30" y1="261.50" x2="57.30" y2="261.50" stroke="#000" stroke-width="0.6"/>
<text x="41.90" y="264.90" text-anchor="end" class="t">60</text>
<line x1="45.30" y1="256.66" x2="51.30" y2="256.66" stroke="#000" stroke-width="0.6"/>
<line x1="45.30" y1="251.82" x2="51.30" y2="251.82" stroke="#000" stroke-width="0.6"/>
<line x1="45.30" y1="246.98" x2="51.30" y2="246.98" stroke="#000" stroke-width="0.6"/>
<line x1="45.30" y1="242.14" x2="51.30" y2="242.14" stroke="#000" stroke-width="0.6"/>
<line x1="45.30" y1="237.30" x2="57.30" y2="237.30" stroke="#000" stroke-width="0.6"/>
<text x="41.90" y="240.70" text-anchor="end" class="t">70</text>
<line x1="45.30" y1="232.46" x2="51.30" y2="232.46" stroke="#000" stroke-width="0.6"/>
<line x1="45.30" y1="227.62" x2="51.30" y2="227.62" stroke="#000" stroke-width="0.6"/>
<line x1="45.30" y1="222.78" x2="51.30" y2="222.78" stroke="#000" stroke-width="0.6"/>
<line x1="45.30" y1="217.94" x2="51.30" y2="217.94" stroke="#000" stroke-width="0.6"/>
<line x1="45.30" y1="213.10" x2="57.30" y2="213.10" stroke="#000" stroke-width="0.6"/>
<text x="41.90" y="216.50" text-anchor="end" class="t">80</text>
<line x1="45.30" y1="208.26" x2="51.30" y2="208.26" stroke="#000" stroke-width="0.6"/>
<line x1="45.30" y1="203.42" x2="51.30" y2="203.42" stroke="#000" stroke-width="0.6"/>
<line x1="45.30" y1="198.58" x2="51.30" y2="198.58" stroke="#000" stroke-width="0.6"/>
<line x1="45.30" y1="193.74" x2="51.30" y2="193.74" stroke="#000" stroke-width="0.6"/>
<line x1="45.30" y1="188.90" x2="57.30" y2="188.90" stroke="#000" stroke-width="0.6"/>
<text x="41.90" y="192.30" text-anchor="end" class="t">90</text>
<line x1="45.30" y1="334.10" x2="45.30" y2="329.90" stroke="#000" stroke-width="0.6"/>
<text x="45.70" y="342.70" text-anchor="middle" class="t">0</text>
<line x1="57.64" y1="334.10" x2="57.64" y2="332.00" stroke="#000" stroke-width="0.6"/>
<line x1="69.97" y1="334.10" x2="69.97" y2="332.00" stroke="#000" stroke-width="0.6"/>
<line x1="82.31" y1="334.10" x2="82.31" y2="332.00" stroke="#000" stroke-width="0.6"/>
<line x1="94.64" y1="334.10" x2="94.64" y2="332.00" stroke="#000" stroke-width="0.6"/>
<line x1="106.98" y1="334.10" x2="106.98" y2="329.90" stroke="#000" stroke-width="0.6"/>
<text x="107.38" y="342.70" text-anchor="middle" class="t">50</text>
<line x1="119.32" y1="334.10" x2="119.32" y2="332.00" stroke="#000" stroke-width="0.6"/>
<line x1="131.65" y1="334.10" x2="131.65" y2="332.00" stroke="#000" stroke-width="0.6"/>
<line x1="143.99" y1="334.10" x2="143.99" y2="332.00" stroke="#000" stroke-width="0.6"/>
<line x1="156.32" y1="334.10" x2="156.32" y2="332.00" stroke="#000" stroke-width="0.6"/>
<line x1="168.66" y1="334.10" x2="168.66" y2="329.90" stroke="#000" stroke-width="0.6"/>
<text x="169.06" y="342.70" text-anchor="middle" class="t">100</text>
<line x1="181.00" y1="334.10" x2="181.00" y2="332.00" stroke="#000" stroke-width="0.6"/>
<line x1="193.33" y1="334.10" x2="193.33" y2="332.00" stroke="#000" stroke-width="0.6"/>
<line x1="205.67" y1="334.10" x2="205.67" y2="332.00" stroke="#000" stroke-width="0.6"/>
<line x1="218.01" y1="334.10" x2="218.01" y2="332.00" stroke="#000" stroke-width="0.6"/>
<line x1="230.34" y1="334.10" x2="230.34" y2="329.90" stroke="#000" stroke-width="0.6"/>
<text x="230.74" y="342.70" text-anchor="middle" class="t">150</text>
<line x1="242.68" y1="334.10" x2="242.68" y2="332.00" stroke="#000" stroke-width="0.6"/>
<line x1="255.01" y1="334.10" x2="255.01" y2="332.00" stroke="#000" stroke-width="0.6"/>
<line x1="267.35" y1="334.10" x2="267.35" y2="332.00" stroke="#000" stroke-width="0.6"/>
<line x1="279.69" y1="334.10" x2="279.69" y2="332.00" stroke="#000" stroke-width="0.6"/>
<line x1="292.02" y1="334.10" x2="292.02" y2="329.90" stroke="#000" stroke-width="0.6"/>
<text x="292.42" y="342.70" text-anchor="middle" class="t">200</text>
<line x1="304.36" y1="334.10" x2="304.36" y2="332.00" stroke="#000" stroke-width="0.6"/>
<line x1="316.69" y1="334.10" x2="316.69" y2="332.00" stroke="#000" stroke-width="0.6"/>
<line x1="329.03" y1="334.10" x2="329.03" y2="332.00" stroke="#000" stroke-width="0.6"/>
<line x1="341.37" y1="334.10" x2="341.37" y2="332.00" stroke="#000" stroke-width="0.6"/>
<line x1="353.70" y1="334.10" x2="353.70" y2="329.90" stroke="#000" stroke-width="0.6"/>
<text x="354.10" y="342.70" text-anchor="middle" class="t">250</text>
<line x1="366.04" y1="334.10" x2="366.04" y2="332.00" stroke="#000" stroke-width="0.6"/>
<line x1="378.38" y1="334.10" x2="378.38" y2="332.00" stroke="#000" stroke-width="0.6"/>
<line x1="390.71" y1="334.10" x2="390.71" y2="332.00" stroke="#000" stroke-width="0.6"/>
<line x1="403.05" y1="334.10" x2="403.05" y2="332.00" stroke="#000" stroke-width="0.6"/>
<line x1="415.38" y1="334.10" x2="415.38" y2="329.90" stroke="#000" stroke-width="0.6"/>
<text x="415.78" y="342.70" text-anchor="middle" class="t">300</text>
<line x1="427.72" y1="334.10" x2="427.72" y2="332.00" stroke="#000" stroke-width="0.6"/>
<line x1="440.06" y1="334.10" x2="440.06" y2="332.00" stroke="#000" stroke-width="0.6"/>
<line x1="452.39" y1="334.10" x2="452.39" y2="332.00" stroke="#000" stroke-width="0.6"/>
<line x1="464.73" y1="334.10" x2="464.73" y2="332.00" stroke="#000" stroke-width="0.6"/>
<line x1="477.06" y1="334.10" x2="477.06" y2="329.90" stroke="#000" stroke-width="0.6"/>
<text x="477.46" y="342.70" text-anchor="middle" class="t">350</text>
<line x1="489.40" y1="334.10" x2="489.40" y2="332.00" stroke="#000" stroke-width="0.6"/>
<line x1="489.40" y1="188.90" x2="500.80" y2="188.90" stroke="#000" stroke-width="0.5"/>
<text x="503.30" y="192.20" class="zb">2.4</text>
<line x1="489.40" y1="207.05" x2="500.80" y2="207.05" stroke="#000" stroke-width="0.5"/>
<text x="503.30" y="210.35" class="zb">2.2</text>
<line x1="489.40" y1="225.20" x2="500.80" y2="225.20" stroke="#000" stroke-width="0.5"/>
<text x="503.30" y="228.50" class="zb">2</text>
<line x1="489.40" y1="243.35" x2="500.80" y2="243.35" stroke="#000" stroke-width="0.5"/>
<text x="503.30" y="246.65" class="zb">1.8</text>
<line x1="489.40" y1="261.50" x2="500.80" y2="261.50" stroke="#000" stroke-width="0.5"/>
<text x="503.30" y="264.80" class="zb">1.6</text>
<line x1="489.40" y1="279.65" x2="500.80" y2="279.65" stroke="#000" stroke-width="0.5"/>
<text x="503.30" y="282.95" class="zb">1.4</text>
<line x1="489.40" y1="297.80" x2="500.80" y2="297.80" stroke="#000" stroke-width="0.5"/>
<text x="503.30" y="301.10" class="zb">1.2</text>
<line x1="489.40" y1="315.95" x2="500.80" y2="315.95" stroke="#000" stroke-width="0.5"/>
<text x="503.30" y="319.25" class="zb">1</text>
<line x1="489.40" y1="334.10" x2="500.80" y2="334.10" stroke="#000" stroke-width="0.5"/>
<text x="503.30" y="337.40" class="zb">0.8</text>
<text transform="translate(21.60 191.30) rotate(-90) scale(1 1.18)" text-anchor="end" class="sb">Elevation [deg]</text>
<text transform="translate(535.00 191.30) rotate(-90) scale(1 1.1)" text-anchor="end" class="sb">Relative Transmission</text>
<text transform="translate(485.80 351.40) scale(1.27 1)" text-anchor="end" class="pb">ϕ [deg]</text>
<text transform="translate(119.2 105.7) scale(1.06 1)" text-anchor="middle" class="L">A</text>
<text transform="translate(241.5 49.8) scale(1.06 1)" text-anchor="middle" class="L">B</text>
<text transform="translate(346.4 89.5) scale(1.06 1)" text-anchor="middle" class="L">C</text>
<text transform="translate(151.6 305.2) scale(1.06 1)" text-anchor="middle" class="L">A</text>
<text transform="translate(268.3 218.7) scale(1.06 1)" text-anchor="middle" class="L">B</text>
<text transform="translate(414.2 274.2) scale(1.06 1)" text-anchor="middle" class="L">C</text>
</g>
</svg>
</body></html>
